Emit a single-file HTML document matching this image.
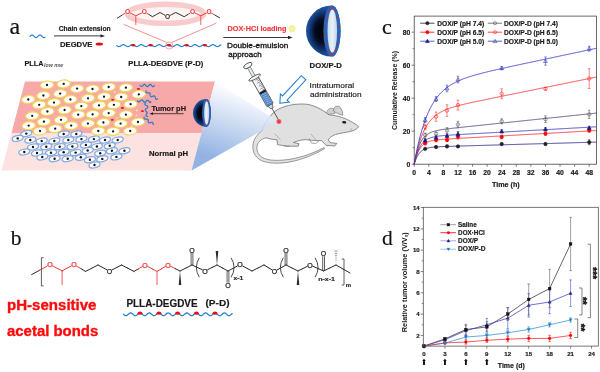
<!DOCTYPE html><html><head><meta charset="utf-8"><title>Figure</title><style>html,body{margin:0;padding:0;background:#fff;}svg{display:block;}</style></head><body>
<svg width="600" height="372" viewBox="0 0 600 372">
<defs>
<radialGradient id="hg1" cx="0.5" cy="0.52" r="0.6" fx="0.46" fy="0.5"><stop offset="0" stop-color="#000"/><stop offset="0.38" stop-color="#040c24"/><stop offset="0.72" stop-color="#184a94"/><stop offset="1" stop-color="#2462b2"/></radialGradient>
<radialGradient id="hg2" cx="0.5" cy="0.52" r="0.6" fx="0.46" fy="0.5"><stop offset="0" stop-color="#000"/><stop offset="0.38" stop-color="#040c24"/><stop offset="0.72" stop-color="#184a94"/><stop offset="1" stop-color="#2462b2"/></radialGradient>
<linearGradient id="faceg" x1="0" y1="0" x2="1" y2="0"><stop offset="0" stop-color="#c8dcf2"/><stop offset="0.5" stop-color="#e8f1fb"/><stop offset="1" stop-color="#bcd3ee"/></linearGradient>
<linearGradient id="coneg" gradientUnits="userSpaceOnUse" x1="236" y1="93" x2="214" y2="158"><stop offset="0" stop-color="#f7f9fd"/><stop offset="0.45" stop-color="#c4d5ef"/><stop offset="1" stop-color="#84a8df"/></linearGradient>
<filter id="blur1" x="-20%" y="-40%" width="140%" height="180%"><feGaussianBlur stdDeviation="0.55"/></filter>
</defs>
<rect width="600" height="372" fill="#fff"/>
<polygon points="25.0,81.5 215.0,81.5 201.4,133.2 11.4,133.2" fill="#f7a9a9"/>
<polygon points="11.4,133.2 201.4,133.2 191.6,170.4 1.6,170.4" fill="#fde2e2"/>
<ellipse cx="47" cy="85" rx="6.7" ry="3.95" fill="#fff" stroke="#f2d458" stroke-width="1.15" transform="rotate(-5 47 85)"/>
<circle cx="47" cy="85" r="1.15" fill="#111"/>
<ellipse cx="63.7" cy="83.9" rx="6.7" ry="3.95" fill="#fff" stroke="#f2d458" stroke-width="1.15" transform="rotate(-5 63.7 83.9)"/>
<circle cx="63.7" cy="83.9" r="1.15" fill="#111"/>
<ellipse cx="77.1" cy="88.6" rx="6.7" ry="3.95" fill="#fff" stroke="#f2d458" stroke-width="1.15" transform="rotate(-5 77.1 88.6)"/>
<circle cx="77.1" cy="88.6" r="1.15" fill="#111"/>
<ellipse cx="92.5" cy="89" rx="6.7" ry="3.95" fill="#fff" stroke="#f2d458" stroke-width="1.15" transform="rotate(-5 92.5 89)"/>
<circle cx="92.5" cy="89" r="1.15" fill="#111"/>
<ellipse cx="43.4" cy="95.5" rx="6.7" ry="3.95" fill="#fff" stroke="#f2d458" stroke-width="1.15" transform="rotate(-5 43.4 95.5)"/>
<circle cx="43.4" cy="95.5" r="1.15" fill="#111"/>
<ellipse cx="60.2" cy="93.6" rx="6.7" ry="3.95" fill="#fff" stroke="#f2d458" stroke-width="1.15" transform="rotate(-5 60.2 93.6)"/>
<circle cx="60.2" cy="93.6" r="1.15" fill="#111"/>
<ellipse cx="28.3" cy="99.5" rx="6.7" ry="3.95" fill="#fff" stroke="#f2d458" stroke-width="1.15" transform="rotate(-5 28.3 99.5)"/>
<circle cx="28.3" cy="99.5" r="1.15" fill="#111"/>
<ellipse cx="70.4" cy="99.5" rx="6.7" ry="3.95" fill="#fff" stroke="#f2d458" stroke-width="1.15" transform="rotate(-5 70.4 99.5)"/>
<circle cx="70.4" cy="99.5" r="1.15" fill="#111"/>
<ellipse cx="88" cy="98.3" rx="6.7" ry="3.95" fill="#fff" stroke="#f2d458" stroke-width="1.15" transform="rotate(-5 88 98.3)"/>
<circle cx="88" cy="98.3" r="1.15" fill="#111"/>
<ellipse cx="39.2" cy="104.8" rx="6.7" ry="3.95" fill="#fff" stroke="#f2d458" stroke-width="1.15" transform="rotate(-5 39.2 104.8)"/>
<circle cx="39.2" cy="104.8" r="1.15" fill="#111"/>
<ellipse cx="54" cy="102.6" rx="6.7" ry="3.95" fill="#fff" stroke="#f2d458" stroke-width="1.15" transform="rotate(-5 54 102.6)"/>
<circle cx="54" cy="102.6" r="1.15" fill="#111"/>
<ellipse cx="81.3" cy="106.1" rx="6.7" ry="3.95" fill="#fff" stroke="#f2d458" stroke-width="1.15" transform="rotate(-5 81.3 106.1)"/>
<circle cx="81.3" cy="106.1" r="1.15" fill="#111"/>
<ellipse cx="47.4" cy="111.5" rx="6.7" ry="3.95" fill="#fff" stroke="#f2d458" stroke-width="1.15" transform="rotate(-5 47.4 111.5)"/>
<circle cx="47.4" cy="111.5" r="1.15" fill="#111"/>
<ellipse cx="64.6" cy="110" rx="6.7" ry="3.95" fill="#fff" stroke="#f2d458" stroke-width="1.15" transform="rotate(-5 64.6 110)"/>
<circle cx="64.6" cy="110" r="1.15" fill="#111"/>
<ellipse cx="32.2" cy="115.8" rx="6.7" ry="3.95" fill="#fff" stroke="#f2d458" stroke-width="1.15" transform="rotate(-5 32.2 115.8)"/>
<circle cx="32.2" cy="115.8" r="1.15" fill="#111"/>
<ellipse cx="78.2" cy="114.7" rx="6.7" ry="3.95" fill="#fff" stroke="#f2d458" stroke-width="1.15" transform="rotate(-5 78.2 114.7)"/>
<circle cx="78.2" cy="114.7" r="1.15" fill="#111"/>
<ellipse cx="92.6" cy="114.4" rx="6.7" ry="3.95" fill="#fff" stroke="#f2d458" stroke-width="1.15" transform="rotate(-5 92.6 114.4)"/>
<circle cx="92.6" cy="114.4" r="1.15" fill="#111"/>
<ellipse cx="43.9" cy="121.7" rx="6.7" ry="3.95" fill="#fff" stroke="#f2d458" stroke-width="1.15" transform="rotate(-5 43.9 121.7)"/>
<circle cx="43.9" cy="121.7" r="1.15" fill="#111"/>
<ellipse cx="61" cy="119.8" rx="6.7" ry="3.95" fill="#fff" stroke="#f2d458" stroke-width="1.15" transform="rotate(-5 61 119.8)"/>
<circle cx="61" cy="119.8" r="1.15" fill="#111"/>
<ellipse cx="87.9" cy="123.6" rx="6.7" ry="3.95" fill="#fff" stroke="#f2d458" stroke-width="1.15" transform="rotate(-5 87.9 123.6)"/>
<circle cx="87.9" cy="123.6" r="1.15" fill="#111"/>
<ellipse cx="28.7" cy="125.6" rx="6.7" ry="3.95" fill="#fff" stroke="#f2d458" stroke-width="1.15" transform="rotate(-5 28.7 125.6)"/>
<circle cx="28.7" cy="125.6" r="1.15" fill="#111"/>
<ellipse cx="71.2" cy="125.6" rx="6.7" ry="3.95" fill="#fff" stroke="#f2d458" stroke-width="1.15" transform="rotate(-5 71.2 125.6)"/>
<circle cx="71.2" cy="125.6" r="1.15" fill="#111"/>
<ellipse cx="40" cy="131" rx="6.7" ry="3.95" fill="#fff" stroke="#f2d458" stroke-width="1.15" transform="rotate(-5 40 131)"/>
<circle cx="40" cy="131" r="1.15" fill="#111"/>
<ellipse cx="55.2" cy="128.7" rx="6.7" ry="3.95" fill="#fff" stroke="#f2d458" stroke-width="1.15" transform="rotate(-5 55.2 128.7)"/>
<circle cx="55.2" cy="128.7" r="1.15" fill="#111"/>
<ellipse cx="108.7" cy="87" rx="6.7" ry="3.95" fill="#fff" stroke="#f2d458" stroke-width="1.15" transform="rotate(-5 108.7 87)"/>
<circle cx="108.7" cy="87" r="1.15" fill="#111"/>
<ellipse cx="125.9" cy="87.7" rx="6.7" ry="3.95" fill="#fff" stroke="#f2d458" stroke-width="1.15" transform="rotate(-5 125.9 87.7)"/>
<circle cx="125.9" cy="87.7" r="1.15" fill="#111"/>
<ellipse cx="104" cy="96.7" rx="6.7" ry="3.95" fill="#fff" stroke="#f2d458" stroke-width="1.15" transform="rotate(-5 104 96.7)"/>
<circle cx="104" cy="96.7" r="1.15" fill="#111"/>
<ellipse cx="121.2" cy="97" rx="6.7" ry="3.95" fill="#fff" stroke="#f2d458" stroke-width="1.15" transform="rotate(-5 121.2 97)"/>
<circle cx="121.2" cy="97" r="1.15" fill="#111"/>
<ellipse cx="138.8" cy="94.4" rx="6.7" ry="3.95" fill="#fff" stroke="#f2d458" stroke-width="1.15" transform="rotate(-5 138.8 94.4)"/>
<circle cx="138.8" cy="94.4" r="1.15" fill="#111"/>
<ellipse cx="99" cy="105.3" rx="6.7" ry="3.95" fill="#fff" stroke="#f2d458" stroke-width="1.15" transform="rotate(-5 99 105.3)"/>
<circle cx="99" cy="105.3" r="1.15" fill="#111"/>
<ellipse cx="113.9" cy="104.8" rx="6.7" ry="3.95" fill="#fff" stroke="#f2d458" stroke-width="1.15" transform="rotate(-5 113.9 104.8)"/>
<circle cx="113.9" cy="104.8" r="1.15" fill="#111"/>
<ellipse cx="130.6" cy="104.2" rx="6.7" ry="3.95" fill="#fff" stroke="#f2d458" stroke-width="1.15" transform="rotate(-5 130.6 104.2)"/>
<circle cx="130.6" cy="104.2" r="1.15" fill="#111"/>
<ellipse cx="108.7" cy="113.1" rx="6.7" ry="3.95" fill="#fff" stroke="#f2d458" stroke-width="1.15" transform="rotate(-5 108.7 113.1)"/>
<circle cx="108.7" cy="113.1" r="1.15" fill="#111"/>
<ellipse cx="125.9" cy="114.7" rx="6.7" ry="3.95" fill="#fff" stroke="#f2d458" stroke-width="1.15" transform="rotate(-5 125.9 114.7)"/>
<circle cx="125.9" cy="114.7" r="1.15" fill="#111"/>
<ellipse cx="103.4" cy="122.5" rx="6.7" ry="3.95" fill="#fff" stroke="#f2d458" stroke-width="1.15" transform="rotate(-5 103.4 122.5)"/>
<circle cx="103.4" cy="122.5" r="1.15" fill="#111"/>
<ellipse cx="120.6" cy="123.6" rx="6.7" ry="3.95" fill="#fff" stroke="#f2d458" stroke-width="1.15" transform="rotate(-5 120.6 123.6)"/>
<circle cx="120.6" cy="123.6" r="1.15" fill="#111"/>
<ellipse cx="138" cy="122" rx="6.7" ry="3.95" fill="#fff" stroke="#f2d458" stroke-width="1.15" transform="rotate(-5 138 122)"/>
<circle cx="138" cy="122" r="1.15" fill="#111"/>
<ellipse cx="98.3" cy="131" rx="6.7" ry="3.95" fill="#fff" stroke="#f2d458" stroke-width="1.15" transform="rotate(-5 98.3 131)"/>
<circle cx="98.3" cy="131" r="1.15" fill="#111"/>
<ellipse cx="113.1" cy="131.4" rx="6.7" ry="3.95" fill="#fff" stroke="#f2d458" stroke-width="1.15" transform="rotate(-5 113.1 131.4)"/>
<circle cx="113.1" cy="131.4" r="1.15" fill="#111"/>
<ellipse cx="130.2" cy="131" rx="6.7" ry="3.95" fill="#fff" stroke="#f2d458" stroke-width="1.15" transform="rotate(-5 130.2 131)"/>
<circle cx="130.2" cy="131" r="1.15" fill="#111"/>
<ellipse cx="138.4" cy="88.9" rx="1.6" ry="0.9" fill="#e8101a"/>
<ellipse cx="112.8" cy="99.8" rx="1.6" ry="0.9" fill="#e8101a"/>
<ellipse cx="122.4" cy="108" rx="1.6" ry="0.9" fill="#e8101a"/>
<ellipse cx="142.4" cy="111.1" rx="1.6" ry="0.9" fill="#e8101a"/>
<ellipse cx="112.3" cy="119.8" rx="1.6" ry="0.9" fill="#e8101a"/>
<circle cx="114.6" cy="92" r="0.9" fill="#f6f08a"/>
<circle cx="136.8" cy="110.4" r="0.9" fill="#f6f08a"/>
<circle cx="136.5" cy="115.4" r="0.9" fill="#f6f08a"/>
<circle cx="117" cy="117.8" r="0.9" fill="#f6f08a"/>
<circle cx="131.8" cy="126.4" r="0.9" fill="#f6f08a"/>
<circle cx="128" cy="116" r="0.9" fill="#f6f08a"/>
<ellipse cx="26.3" cy="133.6" rx="5.6" ry="2.8" fill="#fff" stroke="#80aae0" stroke-width="1.2" transform="rotate(-12 26.3 133.6)"/>
<circle cx="26.3" cy="133.6" r="1.2" fill="#111"/>
<ellipse cx="17.7" cy="138.4" rx="5.6" ry="2.8" fill="#fff" stroke="#80aae0" stroke-width="1.2" transform="rotate(-12 17.7 138.4)"/>
<circle cx="17.7" cy="138.4" r="1.2" fill="#111"/>
<ellipse cx="30.3" cy="140" rx="5.6" ry="2.8" fill="#fff" stroke="#80aae0" stroke-width="1.2" transform="rotate(-12 30.3 140)"/>
<circle cx="30.3" cy="140" r="1.2" fill="#111"/>
<ellipse cx="41.7" cy="141" rx="5.6" ry="2.8" fill="#fff" stroke="#80aae0" stroke-width="1.2" transform="rotate(-12 41.7 141)"/>
<circle cx="41.7" cy="141" r="1.2" fill="#111"/>
<ellipse cx="54.3" cy="141" rx="5.6" ry="2.8" fill="#fff" stroke="#80aae0" stroke-width="1.2" transform="rotate(-12 54.3 141)"/>
<circle cx="54.3" cy="141" r="1.2" fill="#111"/>
<ellipse cx="63.7" cy="134" rx="5.6" ry="2.8" fill="#fff" stroke="#80aae0" stroke-width="1.2" transform="rotate(-12 63.7 134)"/>
<circle cx="63.7" cy="134" r="1.2" fill="#111"/>
<ellipse cx="76.3" cy="134" rx="5.6" ry="2.8" fill="#fff" stroke="#80aae0" stroke-width="1.2" transform="rotate(-12 76.3 134)"/>
<circle cx="76.3" cy="134" r="1.2" fill="#111"/>
<ellipse cx="68.3" cy="140" rx="5.6" ry="2.8" fill="#fff" stroke="#80aae0" stroke-width="1.2" transform="rotate(-12 68.3 140)"/>
<circle cx="68.3" cy="140" r="1.2" fill="#111"/>
<ellipse cx="81.4" cy="139.1" rx="5.6" ry="2.8" fill="#fff" stroke="#80aae0" stroke-width="1.2" transform="rotate(-12 81.4 139.1)"/>
<circle cx="81.4" cy="139.1" r="1.2" fill="#111"/>
<ellipse cx="33" cy="147" rx="5.6" ry="2.8" fill="#fff" stroke="#80aae0" stroke-width="1.2" transform="rotate(-12 33 147)"/>
<circle cx="33" cy="147" r="1.2" fill="#111"/>
<ellipse cx="46.3" cy="146.7" rx="5.6" ry="2.8" fill="#fff" stroke="#80aae0" stroke-width="1.2" transform="rotate(-12 46.3 146.7)"/>
<circle cx="46.3" cy="146.7" r="1.2" fill="#111"/>
<ellipse cx="59.7" cy="146.7" rx="5.6" ry="2.8" fill="#fff" stroke="#80aae0" stroke-width="1.2" transform="rotate(-12 59.7 146.7)"/>
<circle cx="59.7" cy="146.7" r="1.2" fill="#111"/>
<ellipse cx="72.4" cy="146.5" rx="5.6" ry="2.8" fill="#fff" stroke="#80aae0" stroke-width="1.2" transform="rotate(-12 72.4 146.5)"/>
<circle cx="72.4" cy="146.5" r="1.2" fill="#111"/>
<ellipse cx="24.3" cy="152" rx="5.6" ry="2.8" fill="#fff" stroke="#80aae0" stroke-width="1.2" transform="rotate(-12 24.3 152)"/>
<circle cx="24.3" cy="152" r="1.2" fill="#111"/>
<ellipse cx="37" cy="153" rx="5.6" ry="2.8" fill="#fff" stroke="#80aae0" stroke-width="1.2" transform="rotate(-12 37 153)"/>
<circle cx="37" cy="153" r="1.2" fill="#111"/>
<ellipse cx="51" cy="152.7" rx="5.6" ry="2.8" fill="#fff" stroke="#80aae0" stroke-width="1.2" transform="rotate(-12 51 152.7)"/>
<circle cx="51" cy="152.7" r="1.2" fill="#111"/>
<ellipse cx="63.7" cy="152.3" rx="5.6" ry="2.8" fill="#fff" stroke="#80aae0" stroke-width="1.2" transform="rotate(-12 63.7 152.3)"/>
<circle cx="63.7" cy="152.3" r="1.2" fill="#111"/>
<ellipse cx="75.6" cy="152.6" rx="5.6" ry="2.8" fill="#fff" stroke="#80aae0" stroke-width="1.2" transform="rotate(-12 75.6 152.6)"/>
<circle cx="75.6" cy="152.6" r="1.2" fill="#111"/>
<ellipse cx="42.3" cy="157" rx="5.6" ry="2.8" fill="#fff" stroke="#80aae0" stroke-width="1.2" transform="rotate(-12 42.3 157)"/>
<circle cx="42.3" cy="157" r="1.2" fill="#111"/>
<ellipse cx="54.6" cy="158.7" rx="5.6" ry="2.8" fill="#fff" stroke="#80aae0" stroke-width="1.2" transform="rotate(-12 54.6 158.7)"/>
<circle cx="54.6" cy="158.7" r="1.2" fill="#111"/>
<ellipse cx="67.7" cy="158.7" rx="5.6" ry="2.8" fill="#fff" stroke="#80aae0" stroke-width="1.2" transform="rotate(-12 67.7 158.7)"/>
<circle cx="67.7" cy="158.7" r="1.2" fill="#111"/>
<ellipse cx="80.8" cy="157.3" rx="5.6" ry="2.8" fill="#fff" stroke="#80aae0" stroke-width="1.2" transform="rotate(-12 80.8 157.3)"/>
<circle cx="80.8" cy="157.3" r="1.2" fill="#111"/>
<ellipse cx="93.9" cy="139.1" rx="5.6" ry="2.8" fill="#fff" stroke="#80aae0" stroke-width="1.2" transform="rotate(-12 93.9 139.1)"/>
<circle cx="93.9" cy="139.1" r="1.2" fill="#111"/>
<ellipse cx="105" cy="140" rx="5.6" ry="2.8" fill="#fff" stroke="#80aae0" stroke-width="1.2" transform="rotate(-12 105 140)"/>
<circle cx="105" cy="140" r="1.2" fill="#111"/>
<ellipse cx="117.7" cy="140" rx="5.6" ry="2.8" fill="#fff" stroke="#80aae0" stroke-width="1.2" transform="rotate(-12 117.7 140)"/>
<circle cx="117.7" cy="140" r="1.2" fill="#111"/>
<ellipse cx="85.9" cy="144.9" rx="5.6" ry="2.8" fill="#fff" stroke="#80aae0" stroke-width="1.2" transform="rotate(-12 85.9 144.9)"/>
<circle cx="85.9" cy="144.9" r="1.2" fill="#111"/>
<ellipse cx="96.9" cy="146.5" rx="5.6" ry="2.8" fill="#fff" stroke="#80aae0" stroke-width="1.2" transform="rotate(-12 96.9 146.5)"/>
<circle cx="96.9" cy="146.5" r="1.2" fill="#111"/>
<ellipse cx="109.7" cy="145.8" rx="5.6" ry="2.8" fill="#fff" stroke="#80aae0" stroke-width="1.2" transform="rotate(-12 109.7 145.8)"/>
<circle cx="109.7" cy="145.8" r="1.2" fill="#111"/>
<ellipse cx="87.7" cy="150.5" rx="5.6" ry="2.8" fill="#fff" stroke="#80aae0" stroke-width="1.2" transform="rotate(-12 87.7 150.5)"/>
<circle cx="87.7" cy="150.5" r="1.2" fill="#111"/>
<ellipse cx="100.2" cy="153.2" rx="5.6" ry="2.8" fill="#fff" stroke="#80aae0" stroke-width="1.2" transform="rotate(-12 100.2 153.2)"/>
<circle cx="100.2" cy="153.2" r="1.2" fill="#111"/>
<ellipse cx="111.9" cy="150.8" rx="5.6" ry="2.8" fill="#fff" stroke="#80aae0" stroke-width="1.2" transform="rotate(-12 111.9 150.8)"/>
<circle cx="111.9" cy="150.8" r="1.2" fill="#111"/>
<ellipse cx="124.4" cy="150.8" rx="5.6" ry="2.8" fill="#fff" stroke="#80aae0" stroke-width="1.2" transform="rotate(-12 124.4 150.8)"/>
<circle cx="124.4" cy="150.8" r="1.2" fill="#111"/>
<ellipse cx="89.9" cy="159.7" rx="5.6" ry="2.8" fill="#fff" stroke="#80aae0" stroke-width="1.2" transform="rotate(-12 89.9 159.7)"/>
<circle cx="89.9" cy="159.7" r="1.2" fill="#111"/>
<ellipse cx="102.3" cy="158.9" rx="5.6" ry="2.8" fill="#fff" stroke="#80aae0" stroke-width="1.2" transform="rotate(-12 102.3 158.9)"/>
<circle cx="102.3" cy="158.9" r="1.2" fill="#111"/>
<ellipse cx="116.4" cy="156.9" rx="5.6" ry="2.8" fill="#fff" stroke="#80aae0" stroke-width="1.2" transform="rotate(-12 116.4 156.9)"/>
<circle cx="116.4" cy="156.9" r="1.2" fill="#111"/>
<ellipse cx="94.5" cy="165" rx="5.6" ry="2.8" fill="#fff" stroke="#80aae0" stroke-width="1.2" transform="rotate(-12 94.5 165)"/>
<circle cx="94.5" cy="165" r="1.2" fill="#111"/>
<polyline points="140.10,85.40 140.43,85.80 140.76,86.14 141.09,86.39 141.43,86.51 141.76,86.49 142.10,86.33 142.44,86.05 142.78,85.69 143.12,85.30 143.46,84.92 143.80,84.62 144.14,84.42 144.48,84.36 144.81,84.45 145.15,84.66 145.48,84.98 145.81,85.37 146.14,85.77 146.47,86.14 146.80,86.42 147.13,86.57 147.47,86.59 147.81,86.47 148.15,86.22 148.49,85.88 148.83,85.49 149.17,85.10 149.51,84.78 149.85,84.55 150.19,84.45 150.52,84.49 150.86,84.67 151.19,84.97 151.52,85.34 151.85,85.75 152.18,86.13 152.51,86.43 152.84,86.63 153.18,86.68 153.51,86.60 153.85,86.38 154.20,85.60" fill="none" stroke="#2b78c8" stroke-width="1.2" stroke-linejoin="round" stroke-linecap="round"/>
<polyline points="146.10,90.80 146.04,91.31 146.02,91.79 146.07,92.21 146.22,92.53 146.47,92.76 146.82,92.89 147.26,92.94 147.76,92.94 148.28,92.92 148.79,92.90 149.24,92.94 149.62,93.06 149.89,93.26 150.05,93.57 150.12,93.97 150.11,94.43 150.04,94.93 150.16,95.44 150.31,95.91 150.49,96.30 150.73,96.58 151.04,96.73 151.41,96.74 151.83,96.65 152.30,96.48 152.78,96.27 153.26,96.08 153.71,95.94 154.11,95.91 154.44,95.99 154.71,96.21 154.92,96.55 155.09,96.99 155.22,97.49 155.34,98.00 155.48,98.47 155.66,98.87 155.90,99.16 156.20,99.31 156.57,99.34 156.99,99.25 157.60,98.80" fill="none" stroke="#2b78c8" stroke-width="1.2" stroke-linejoin="round" stroke-linecap="round"/>
<polyline points="137.40,100.80 137.71,101.21 138.03,101.56 138.35,101.83 138.68,101.96 139.02,101.95 139.36,101.81 139.71,101.54 140.07,101.20 140.42,100.82 140.78,100.46 141.13,100.16 141.47,99.98 141.81,99.93 142.14,100.02 142.47,100.25 142.79,100.58 143.10,100.98 143.42,101.40 143.73,101.77 144.05,102.07 144.38,102.24 144.71,102.27 145.05,102.16 145.40,101.93 145.76,101.60 146.11,101.23 146.47,100.86 146.82,100.54 147.17,100.32 147.51,100.23 147.84,100.28 148.17,100.47 148.49,100.78 148.80,101.17 149.12,101.58 149.43,101.97 149.75,102.29 150.08,102.50 150.41,102.58 150.80,101.50" fill="none" stroke="#2b78c8" stroke-width="1.2" stroke-linejoin="round" stroke-linecap="round"/>
<polyline points="145.50,102.80 145.21,103.27 144.98,103.72 144.86,104.13 144.88,104.50 145.06,104.82 145.39,105.09 145.83,105.33 146.33,105.55 146.84,105.76 147.29,105.99 147.64,106.26 147.88,107.08 147.77,107.41 147.53,107.71 147.16,108.00 146.73,108.28 146.27,108.55 145.85,108.82 145.51,109.11 145.29,109.42 145.22,109.76 145.29,110.12 145.49,110.50 145.79,110.89 146.13,111.30 146.46,111.70 146.73,112.09 146.84,111.92 147.05,112.22 147.12,112.59 147.04,113.00 146.85,113.47 146.60,113.95 146.34,114.44 146.14,114.91 146.04,115.34 146.08,115.71 146.27,116.02 146.61,116.27 147.50,116.30" fill="none" stroke="#2b78c8" stroke-width="1.2" stroke-linejoin="round" stroke-linecap="round"/>
<polyline points="144.10,117.00 144.05,117.53 144.05,118.03 144.12,118.45 144.29,118.77 144.57,118.98 144.96,119.09 145.43,119.11 145.96,119.09 146.50,119.05 147.01,119.04 147.45,119.10 147.80,119.24 148.04,119.50 148.17,119.86 148.21,120.31 148.13,120.79 148.21,121.31 148.30,121.81 148.42,122.25 148.61,122.60 148.87,122.83 149.21,122.93 149.61,122.92 150.08,122.82 150.57,122.66 151.07,122.50 151.55,122.38 151.98,122.34 152.33,122.40 152.62,122.59 152.82,122.90 152.97,123.32 153.06,123.81 153.14,124.33 153.50,124.40" fill="none" stroke="#2b78c8" stroke-width="1.2" stroke-linejoin="round" stroke-linecap="round"/>
<text x="151.50" y="110.50" font-size="8.0" font-weight="bold" fill="#1a1a1a" text-anchor="start" stroke="#1a1a1a" stroke-width="0.18" textLength="34.5" lengthAdjust="spacingAndGlyphs" font-family='"Liberation Sans", Arial, sans-serif' >Tumor pH</text>
<line x1="152" y1="113.7" x2="183.7" y2="113.7" stroke="#222" stroke-width="0.8"/>
<polygon points="149.5,113.7 153,112.3 153,115.1" fill="#222"/>
<text x="149.00" y="156.00" font-size="7.5" font-weight="bold" fill="#1a1a1a" text-anchor="start" stroke="#1a1a1a" stroke-width="0.18" textLength="39" lengthAdjust="spacingAndGlyphs" font-family='"Liberation Sans", Arial, sans-serif' >Normal pH</text>
<g transform="translate(332,31) scale(1.0,1.0)">
<path d="M 0,-25.6 A 26,25.6 0 0 0 0,25.6 A 8.5,25.6 0 0 0 0,-25.6 Z" fill="url(#hg1)"/>
<ellipse cx="0" cy="0" rx="8.6" ry="25.6" fill="#2467b8"/>
<ellipse cx="0.3" cy="0" rx="4.8" ry="21.5" fill="url(#faceg)"/>
<circle cx="6.57" cy="4.65" r="0.95" fill="#e02030"/>
<circle cx="5.56" cy="13.07" r="0.95" fill="#e02030"/>
<circle cx="3.70" cy="19.50" r="0.95" fill="#e02030"/>
<circle cx="1.28" cy="22.97" r="0.95" fill="#e02030"/>
<circle cx="-1.33" cy="22.93" r="0.95" fill="#e02030"/>
<circle cx="-3.74" cy="19.41" r="0.95" fill="#e02030"/>
<circle cx="-5.58" cy="12.93" r="0.95" fill="#e02030"/>
<circle cx="-6.58" cy="4.48" r="0.95" fill="#e02030"/>
<circle cx="-6.57" cy="-4.65" r="0.95" fill="#e02030"/>
<circle cx="-5.56" cy="-13.07" r="0.95" fill="#e02030"/>
<circle cx="-3.70" cy="-19.50" r="0.95" fill="#e02030"/>
<circle cx="-1.28" cy="-22.97" r="0.95" fill="#e02030"/>
<circle cx="1.33" cy="-22.93" r="0.95" fill="#e02030"/>
<circle cx="3.74" cy="-19.41" r="0.95" fill="#e02030"/>
<circle cx="5.58" cy="-12.93" r="0.95" fill="#e02030"/>
<circle cx="6.58" cy="-4.48" r="0.95" fill="#e02030"/>
<circle cx="-0.5" cy="-11" r="0.9" fill="#f4f4b0"/>
<circle cx="0.5" cy="-2.5" r="0.9" fill="#f4f4b0"/>
<circle cx="0.5" cy="4" r="0.9" fill="#f4f4b0"/>
<circle cx="-1" cy="12" r="0.9" fill="#f4f4b0"/>
</g>
<path d="M267,133 L261.6,131 C257,134.5 253.2,139.5 252.9,146 C252.6,152 255,156.5 259.5,159.5 C265,162.9 273,163.6 283,162.9 C296,161.7 311,156.6 324.7,148.5 L324.1,147.5 C311,154.6 296,159.1 283,160.1 C273.5,160.8 266,160 261.8,157.2 C258,154.4 256.4,150.5 257,146.4 C257.6,142.4 260.5,139.3 266,137.8 Z" fill="#e2e2e2" stroke="#707070" stroke-width="0.7" stroke-linejoin="round"/>
<path d="M326.5,114.5 C326.5,109.5 329.5,107.6 332,108.3 C334.2,109 335.2,111 335,113.5 Z" fill="#cfcfcf" stroke="#777" stroke-width="0.6"/>
<path d="M265.8,137.7 L262.6,134.6 L261.6,131 C263.6,124 268,117 276,110.6 C283,106 293,103.8 304,104 C313,104.4 321,108.8 329,114.8 C338,115.5 346,118.5 351,121.5 C354.5,123.5 357,125 358.6,126.7 C357.5,129 354,130.5 350.5,131.5 C344,132.5 339,133.5 335.5,134.5 C332,135.8 329.5,137.5 328.3,139.8 L330,142.6 L336.8,143.4 L334.8,146 L326,145.3 L321.5,140.6 C316,140.8 310.5,140.2 305,139.6 C300.5,140 297,141 293.5,142.5 L299,143.7 L298.2,146.2 L287,146.2 L277.5,144.6 L277,139.8 C273,139.5 269,138.8 265.8,137.7 Z" fill="#e0e0e0"/>
<path d="M261.6,131 C263.6,124 268,117 276,110.6 C283,106 293,103.8 304,104 C313,104.4 321,108.8 329,114.8 C338,115.5 346,118.5 351,121.5 C354.5,123.5 357,125 358.6,126.7 C357.5,129 354,130.5 350.5,131.5 C344,132.5 339,133.5 335.5,134.5 C332,135.8 329.5,137.5 328.3,139.8 L330,142.6 L336.8,143.4 L334.8,146 L326,145.3 L321.5,140.6 C316,140.8 310.5,140.2 305,139.6 C300.5,140 297,141 293.5,142.5 L299,143.7 L298.2,146.2 L287,146.2 L277.5,144.6 L277,139.8 C273,139.5 269,138.8 265.8,137.7" fill="none" stroke="#6a6a6a" stroke-width="0.75" stroke-linejoin="round"/>
<path d="M333.5,111 C333.3,107.5 336,105.5 338.5,106.3 C341.2,107.3 342.6,111 342.8,115.2 C339.5,114.5 336,113 333.5,111 Z" fill="#d6d6d6" stroke="#6a6a6a" stroke-width="0.65"/>
<path d="M335,109.5 C335.5,108 337.5,107.6 338.6,108.6" fill="none" stroke="#aaa" stroke-width="0.5"/>
<ellipse cx="344.2" cy="122.3" rx="2.1" ry="1.25" fill="#1a1a1a" transform="rotate(10 344.2 122.3)"/>
<path d="M274.5,133.5 C276.5,135.5 278.5,137.5 280.5,140" fill="none" stroke="#8a8a8a" stroke-width="0.55"/>
<path d="M311,134 C313,136.5 314.5,138.5 316,140" fill="none" stroke="#8a8a8a" stroke-width="0.55"/>
<path d="M284,146 L289.5,146.2 M319,141 L315.5,143.5 L311.5,143 L309,138.5" fill="none" stroke="#6a6a6a" stroke-width="0.6"/>
<path d="M351.5,131.2 C350.5,130 350.5,129 351.5,128.3" fill="none" stroke="#777" stroke-width="0.5"/>
<polygon points="215.0,81.5 278.5,121.3 191.6,170.4" fill="url(#coneg)" opacity="0.88"/>
<g transform="translate(206.5,113.0) scale(0.52,0.545)">
<path d="M 0,-25.6 A 26,25.6 0 0 0 0,25.6 A 8.5,25.6 0 0 0 0,-25.6 Z" fill="url(#hg2)"/>
<ellipse cx="0" cy="0" rx="8.6" ry="25.6" fill="#2467b8"/>
<ellipse cx="0.3" cy="0" rx="4.8" ry="21.5" fill="url(#faceg)"/>
<circle cx="6.57" cy="4.65" r="0.95" fill="#e02030"/>
<circle cx="5.56" cy="13.07" r="0.95" fill="#e02030"/>
<circle cx="3.70" cy="19.50" r="0.95" fill="#e02030"/>
<circle cx="1.28" cy="22.97" r="0.95" fill="#e02030"/>
<circle cx="-1.33" cy="22.93" r="0.95" fill="#e02030"/>
<circle cx="-3.74" cy="19.41" r="0.95" fill="#e02030"/>
<circle cx="-5.58" cy="12.93" r="0.95" fill="#e02030"/>
<circle cx="-6.58" cy="4.48" r="0.95" fill="#e02030"/>
<circle cx="-6.57" cy="-4.65" r="0.95" fill="#e02030"/>
<circle cx="-5.56" cy="-13.07" r="0.95" fill="#e02030"/>
<circle cx="-3.70" cy="-19.50" r="0.95" fill="#e02030"/>
<circle cx="-1.28" cy="-22.97" r="0.95" fill="#e02030"/>
<circle cx="1.33" cy="-22.93" r="0.95" fill="#e02030"/>
<circle cx="3.74" cy="-19.41" r="0.95" fill="#e02030"/>
<circle cx="5.58" cy="-12.93" r="0.95" fill="#e02030"/>
<circle cx="6.58" cy="-4.48" r="0.95" fill="#e02030"/>
<circle cx="-0.5" cy="-11" r="0.9" fill="#f4f4b0"/>
<circle cx="0.5" cy="-2.5" r="0.9" fill="#f4f4b0"/>
<circle cx="0.5" cy="4" r="0.9" fill="#f4f4b0"/>
<circle cx="-1" cy="12" r="0.9" fill="#f4f4b0"/>
</g>
<g transform="translate(279.9,103.3) rotate(132.8)">
<polygon points="0,0 -7.2,-6 -7.2,-3.1 -34.8,-3.1 -34.8,3.1 -7.2,3.1 -7.2,6" fill="#fff" stroke="#2c7ccc" stroke-width="1.1" stroke-linejoin="miter"/>
</g>
<g transform="translate(248.1,66.1) rotate(60.5)">
<line x1="47" y1="0" x2="62.5" y2="0" stroke="#333" stroke-width="0.7"/>
<path d="M44.5,-2.6 L48.5,-1.2 L48.5,1.2 L44.5,2.6 Z" fill="#cfd8e4" stroke="#333" stroke-width="0.6"/>
<rect x="1.2" y="-1.5" width="12" height="3" fill="#e8ecf2" stroke="#444" stroke-width="0.55"/>
<ellipse cx="-0.6" cy="0" rx="2.2" ry="4.6" fill="#f4f6fa" stroke="#333" stroke-width="0.75"/>
<rect x="13.5" y="-3.6" width="31" height="7.2" fill="#f2f4f8" stroke="#333" stroke-width="0.7"/>
<ellipse cx="13.2" cy="0" rx="1.6" ry="6.6" fill="#f4f6fa" stroke="#333" stroke-width="0.7"/>
<line x1="16.0" y1="-3.4" x2="16.0" y2="0.5" stroke="#333" stroke-width="0.45"/>
<line x1="17.7" y1="-3.4" x2="17.7" y2="-0.8" stroke="#333" stroke-width="0.45"/>
<line x1="19.4" y1="-3.4" x2="19.4" y2="0.5" stroke="#333" stroke-width="0.45"/>
<line x1="21.1" y1="-3.4" x2="21.1" y2="-0.8" stroke="#333" stroke-width="0.45"/>
<line x1="22.8" y1="-3.4" x2="22.8" y2="0.5" stroke="#333" stroke-width="0.45"/>
<line x1="24.5" y1="-3.4" x2="24.5" y2="-0.8" stroke="#333" stroke-width="0.45"/>
<line x1="26.2" y1="-3.4" x2="26.2" y2="0.5" stroke="#333" stroke-width="0.45"/>
<line x1="27.9" y1="-3.4" x2="27.9" y2="-0.8" stroke="#333" stroke-width="0.45"/>
<rect x="28.6" y="-3.4" width="2.4" height="6.8" fill="#1a1a2a"/>
<rect x="31" y="-3.4" width="13.3" height="6.8" fill="#4d7fc4"/>
<path d="M32.3,-3 q1,1.5 0,3 t0,3" fill="none" stroke="#c8daf2" stroke-width="0.5"/>
<path d="M34.3,-3 q1,1.5 0,3 t0,3" fill="none" stroke="#c8daf2" stroke-width="0.5"/>
<path d="M36.3,-3 q1,1.5 0,3 t0,3" fill="none" stroke="#c8daf2" stroke-width="0.5"/>
<path d="M38.3,-3 q1,1.5 0,3 t0,3" fill="none" stroke="#c8daf2" stroke-width="0.5"/>
<path d="M40.3,-3 q1,1.5 0,3 t0,3" fill="none" stroke="#c8daf2" stroke-width="0.5"/>
<path d="M42.3,-3 q1,1.5 0,3 t0,3" fill="none" stroke="#c8daf2" stroke-width="0.5"/>
</g>
<circle cx="278.9" cy="121.6" r="2.5" fill="#f06070"/>
<circle cx="278.9" cy="121.6" r="1.3" fill="#e83040"/>
<text x="9.50" y="34.30" font-size="24" font-weight="normal" fill="#111" text-anchor="start" stroke="#111" stroke-width="0.15" font-family='"Liberation Serif", "Times New Roman", serif' >a</text>
<polyline points="30.00,36.30 30.33,35.97 30.65,35.66 30.98,35.40 31.30,35.19 31.63,35.05 31.96,35.00 32.28,35.03 32.61,35.15 32.93,35.33 33.26,35.59 33.59,35.89 33.91,36.21 34.24,36.54 34.57,36.86 34.89,37.14 35.22,37.36 35.54,37.52 35.87,37.59 36.20,37.58 36.52,37.49 36.85,37.32 37.17,37.09 37.50,36.80 37.83,36.48 38.15,36.14 38.48,35.82 38.80,35.53 39.13,35.29 39.46,35.12 39.78,35.02 40.11,35.00 40.43,35.08 40.76,35.23 41.09,35.45 41.41,35.72 41.74,36.04 42.07,36.37 42.39,36.69 42.72,36.99 43.04,37.25 43.37,37.44 43.70,37.56 44.02,37.60 44.35,37.55 44.67,37.42 45.00,37.22" fill="none" stroke="#2b7fd0" stroke-width="1.2" stroke-linecap="round"/>
<text x="58.70" y="30.70" font-size="7.0" font-weight="bold" fill="#222" text-anchor="start" stroke="#222" stroke-width="0.18" textLength="52" lengthAdjust="spacingAndGlyphs" font-family='"Liberation Sans", Arial, sans-serif' >Chain extension</text>
<line x1="54" y1="35.9" x2="102" y2="35.9" stroke="#222" stroke-width="0.9"/>
<polygon points="105,35.9 100.5,34.2 100.5,37.6" fill="#222"/>
<text x="60.00" y="47.00" font-size="7.8" font-weight="bold" fill="#1a1a1a" text-anchor="start" stroke="#1a1a1a" stroke-width="0.18" textLength="32.4" lengthAdjust="spacingAndGlyphs" font-family='"Liberation Sans", Arial, sans-serif' >DEGDVE</text>
<ellipse cx="99.3" cy="44" rx="3.7" ry="1.55" fill="#e0101a"/>
<text x="24.50" y="65.80" font-size="7.7" font-weight="bold" fill="#1a1a1a" text-anchor="start" stroke="#1a1a1a" stroke-width="0.18" textLength="19" lengthAdjust="spacingAndGlyphs" font-family='"Liberation Sans", Arial, sans-serif' >PLLA</text>
<text x="44.00" y="67.20" font-size="4.6" font-weight="bold" fill="#555" text-anchor="start" textLength="19" lengthAdjust="spacingAndGlyphs" font-family='"Liberation Sans", Arial, sans-serif' font-style="italic">low mw</text>
<ellipse cx="165.5" cy="13.8" rx="38.2" ry="9.6" fill="#fef4f4" stroke="#f8cccc" stroke-width="5.4" filter="url(#blur1)"/>
<line x1="123.5" y1="24.3" x2="166.5" y2="42.3" stroke="#f06060" stroke-width="0.7"/>
<line x1="216" y1="23.3" x2="172" y2="42.3" stroke="#f06060" stroke-width="0.7"/>
<line x1="117" y1="18.3" x2="122.25" y2="15.0" stroke="#333" stroke-width="1.0"/>
<line x1="122.25" y1="15.0" x2="127.5" y2="11.7" stroke="#f03a3a" stroke-width="1.0"/>
<line x1="127.5" y1="11.7" x2="131.65" y2="13.75" stroke="#f03a3a" stroke-width="1.0"/>
<line x1="131.65" y1="13.75" x2="135.8" y2="15.8" stroke="#f03a3a" stroke-width="1.0"/>
<line x1="135.8" y1="15.8" x2="140.0" y2="13.75" stroke="#f03a3a" stroke-width="1.0"/>
<line x1="140.0" y1="13.75" x2="144.2" y2="11.7" stroke="#f03a3a" stroke-width="1.0"/>
<line x1="144.2" y1="11.7" x2="148.35" y2="14.2" stroke="#f03a3a" stroke-width="1.0"/>
<line x1="148.35" y1="14.2" x2="152.5" y2="16.7" stroke="#333" stroke-width="1.0"/>
<line x1="152.5" y1="16.7" x2="156.25" y2="14.6" stroke="#333" stroke-width="1.0"/>
<line x1="156.25" y1="14.6" x2="160" y2="12.5" stroke="#333" stroke-width="1.0"/>
<line x1="160" y1="12.5" x2="163.75" y2="14.6" stroke="#333" stroke-width="1.0"/>
<line x1="163.75" y1="14.6" x2="167.5" y2="16.7" stroke="#333" stroke-width="1.0"/>
<line x1="167.5" y1="16.7" x2="171.65" y2="14.6" stroke="#333" stroke-width="1.0"/>
<line x1="171.65" y1="14.6" x2="175.8" y2="12.5" stroke="#333" stroke-width="1.0"/>
<line x1="175.8" y1="12.5" x2="180.0" y2="14.6" stroke="#333" stroke-width="1.0"/>
<line x1="180.0" y1="14.6" x2="184.2" y2="16.7" stroke="#333" stroke-width="1.0"/>
<line x1="184.2" y1="16.7" x2="188.35" y2="14.2" stroke="#333" stroke-width="1.0"/>
<line x1="188.35" y1="14.2" x2="192.5" y2="11.7" stroke="#f03a3a" stroke-width="1.0"/>
<line x1="192.5" y1="11.7" x2="196.65" y2="13.75" stroke="#f03a3a" stroke-width="1.0"/>
<line x1="196.65" y1="13.75" x2="200.8" y2="15.8" stroke="#f03a3a" stroke-width="1.0"/>
<line x1="200.8" y1="15.8" x2="204.9" y2="13.75" stroke="#f03a3a" stroke-width="1.0"/>
<line x1="204.9" y1="13.75" x2="209" y2="11.7" stroke="#f03a3a" stroke-width="1.0"/>
<line x1="209" y1="11.7" x2="214.5" y2="14.85" stroke="#f03a3a" stroke-width="1.0"/>
<line x1="214.5" y1="14.85" x2="220" y2="18" stroke="#333" stroke-width="1.0"/>
<line x1="135.8" y1="15.8" x2="135.8" y2="25" stroke="#f03a3a" stroke-width="0.8"/>
<line x1="200.8" y1="15.8" x2="200.8" y2="25" stroke="#f03a3a" stroke-width="0.8"/>
<circle cx="127.5" cy="11.7" r="2.6" fill="#fdf0f0"/>
<text x="127.5" y="14.0" font-size="6.6" font-weight="bold" text-anchor="middle" fill="#f03a3a" font-family='"Liberation Sans", Arial, sans-serif'>O</text>
<circle cx="144.2" cy="11.7" r="2.6" fill="#fdf0f0"/>
<text x="144.2" y="14.0" font-size="6.6" font-weight="bold" text-anchor="middle" fill="#f03a3a" font-family='"Liberation Sans", Arial, sans-serif'>O</text>
<circle cx="167.5" cy="16.7" r="2.6" fill="#fdf0f0"/>
<text x="167.5" y="19.0" font-size="6.6" font-weight="bold" text-anchor="middle" fill="#333" font-family='"Liberation Sans", Arial, sans-serif'>O</text>
<circle cx="192.5" cy="11.7" r="2.6" fill="#fdf0f0"/>
<text x="192.5" y="14.0" font-size="6.6" font-weight="bold" text-anchor="middle" fill="#f03a3a" font-family='"Liberation Sans", Arial, sans-serif'>O</text>
<circle cx="209" cy="11.7" r="2.6" fill="#fdf0f0"/>
<text x="209" y="14.0" font-size="6.6" font-weight="bold" text-anchor="middle" fill="#f03a3a" font-family='"Liberation Sans", Arial, sans-serif'>O</text>
<polyline points="116.70,45.60 117.03,45.82 117.37,46.03 117.70,46.21 118.03,46.36 118.36,46.47 118.70,46.54 119.03,46.55 119.36,46.51 119.69,46.42 120.03,46.29 120.36,46.12 120.69,45.92 121.02,45.70 121.36,45.48 121.69,45.26 122.02,45.07 122.35,44.90 122.69,44.77 123.02,44.69 123.35,44.65 123.68,44.67 124.02,44.73 124.35,44.85 124.68,45.00 125.01,45.19 125.35,45.40 125.68,45.62 126.01,45.84 126.35,46.05 126.68,46.23 127.01,46.38 127.34,46.48 127.68,46.54 128.01,46.55 128.34,46.50 128.67,46.41 129.01,46.27 129.34,46.10 129.67,45.90 130.00,45.68 130.34,45.46 130.67,45.25 131.00,45.05 131.33,44.89 131.67,44.76 132.00,44.68 132.33,44.65 132.66,44.67 133.00,44.74 133.33,44.86 133.66,45.02 133.99,45.21 134.33,45.42 134.66,45.64 134.99,45.86 135.32,46.06 135.66,46.24 135.99,46.39 136.32,46.49 136.66,46.54 136.99,46.54 137.32,46.50 137.65,46.40 137.99,46.26 138.32,46.08 138.65,45.88 138.98,45.66 139.32,45.44 139.65,45.23 139.98,45.04 140.31,44.87 140.65,44.75 140.98,44.68 141.31,44.65 141.64,44.68 141.98,44.75 142.31,44.87 142.64,45.03 142.97,45.23 143.31,45.44 143.64,45.66 143.97,45.88 144.30,46.08 144.64,46.26 144.97,46.40 145.30,46.50 145.64,46.54 145.97,46.54 146.30,46.49 146.63,46.39 146.97,46.24 147.30,46.06 147.63,45.86 147.96,45.64 148.30,45.42 148.63,45.21 148.96,45.02 149.29,44.86 149.63,44.74 149.96,44.67 150.29,44.65 150.62,44.68 150.96,44.76 151.29,44.89 151.62,45.05 151.95,45.24 152.29,45.46 152.62,45.68 152.95,45.90 153.28,46.10 153.62,46.27 153.95,46.41 154.28,46.50 154.62,46.55 154.95,46.54 155.28,46.48 155.61,46.38 155.95,46.23 156.28,46.05 156.61,45.84 156.94,45.62 157.28,45.40 157.61,45.19 157.94,45.00 158.27,44.85 158.61,44.73 158.94,44.67 159.27,44.65 159.60,44.69 159.94,44.77 160.27,44.90 160.60,45.07 160.93,45.26 161.27,45.48 161.60,45.70 161.93,45.92 162.26,46.11 162.60,46.28 162.93,46.42 163.26,46.51 163.59,46.55 163.93,46.54 164.26,46.47 164.59,46.36 164.93,46.21 165.26,46.03 165.59,45.82 165.92,45.60 166.26,45.38 166.59,45.17 166.92,44.99 167.25,44.84 167.59,44.73 167.92,44.66 168.25,44.65 168.58,44.69 168.92,44.78 169.25,44.91 169.58,45.08 169.91,45.28 170.25,45.50 170.58,45.72 170.91,45.93 171.24,46.13 171.58,46.30 171.91,46.43 172.24,46.51 172.57,46.55 172.91,46.53 173.24,46.47 173.57,46.35 173.91,46.20 174.24,46.01 174.57,45.80 174.90,45.58 175.24,45.36 175.57,45.16 175.90,44.97 176.23,44.83 176.57,44.72 176.90,44.66 177.23,44.65 177.56,44.70 177.90,44.79 178.23,44.93 178.56,45.10 178.89,45.30 179.23,45.52 179.56,45.74 179.89,45.95 180.22,46.15 180.56,46.31 180.89,46.44 181.22,46.52 181.55,46.55 181.89,46.53 182.22,46.46 182.55,46.34 182.88,46.18 183.22,45.99 183.55,45.78 183.88,45.56 184.22,45.34 184.55,45.14 184.88,44.96 185.21,44.81 185.55,44.71 185.88,44.66 186.21,44.66 186.54,44.70 186.88,44.80 187.21,44.94 187.54,45.12 187.87,45.32 188.21,45.54 188.54,45.76 188.87,45.97 189.20,46.16 189.54,46.33 189.87,46.45 190.20,46.52 190.53,46.55 190.87,46.52 191.20,46.45 191.53,46.33 191.86,46.17 192.20,45.97 192.53,45.76 192.86,45.54 193.20,45.32 193.53,45.12 193.86,44.94 194.19,44.80 194.53,44.70 194.86,44.66 195.19,44.66 195.52,44.71 195.86,44.81 196.19,44.96 196.52,45.13 196.85,45.34 197.19,45.56 197.52,45.78 197.85,45.99 198.18,46.18 198.52,46.34 198.85,46.46 199.18,46.53 199.51,46.55 199.85,46.52 200.18,46.44 200.51,46.31 200.84,46.15 201.18,45.96 201.51,45.74 201.84,45.52 202.18,45.30 202.51,45.10 202.84,44.93 203.17,44.79 203.51,44.70 203.84,44.65 204.17,44.66 204.50,44.72 204.84,44.82 205.17,44.97 205.50,45.15 205.83,45.36 206.17,45.58 206.50,45.80 206.83,46.01 207.16,46.19 207.50,46.35 207.83,46.46 208.16,46.53 208.49,46.55 208.83,46.51 209.16,46.43 209.49,46.30 209.82,46.13 210.16,45.94 210.49,45.72 210.82,45.50 211.15,45.29 211.49,45.09 211.82,44.92 212.15,44.78 212.49,44.69 212.82,44.65 213.15,44.66 213.48,44.73 213.82,44.83 214.15,44.99 214.48,45.17 214.81,45.38 215.15,45.60 215.48,45.82 215.81,46.03 216.14,46.21 216.48,46.36 216.81,46.47 217.14,46.54 217.47,46.55 217.81,46.51 218.14,46.42 218.47,46.29 218.80,46.12 219.14,45.92 219.47,45.70 219.80,45.48 220.13,45.27 220.47,45.07 220.80,44.90" fill="none" stroke="#2b7fd0" stroke-width="1.2" stroke-linecap="round"/>
<ellipse cx="133.3" cy="45.3" rx="2.0" ry="1.3" fill="#e8101a"/>
<ellipse cx="150.8" cy="45.3" rx="2.0" ry="1.3" fill="#e8101a"/>
<ellipse cx="169.2" cy="45.3" rx="2.0" ry="1.3" fill="#e8101a"/>
<ellipse cx="186.7" cy="45.3" rx="2.0" ry="1.3" fill="#e8101a"/>
<ellipse cx="205" cy="45.3" rx="2.0" ry="1.3" fill="#e8101a"/>
<circle cx="169.2" cy="45.5" r="3.6" fill="none" stroke="#f08080" stroke-width="0.7"/>
<text x="128.30" y="65.70" font-size="7.6" font-weight="bold" fill="#1a1a1a" text-anchor="start" stroke="#1a1a1a" stroke-width="0.18" textLength="75" lengthAdjust="spacingAndGlyphs" font-family='"Liberation Sans", Arial, sans-serif' >PLLA-DEGDVE (P-D)</text>
<text x="227.50" y="30.80" font-size="7.2" font-weight="bold" fill="#f23a3a" text-anchor="start" stroke="#f23a3a" stroke-width="0.18" textLength="59" lengthAdjust="spacingAndGlyphs" font-family='"Liberation Sans", Arial, sans-serif' >DOX·HCl loading</text>
<circle cx="292" cy="28.7" r="3.6" fill="#eef29a" opacity="0.9"/>
<line x1="223.3" y1="37.5" x2="289" y2="37.5" stroke="#222" stroke-width="0.9"/>
<polygon points="292.5,37.5 288,35.8 288,39.2" fill="#222"/>
<text x="227.00" y="48.00" font-size="7.3" font-weight="normal" fill="#151515" text-anchor="start" textLength="61.3" lengthAdjust="spacingAndGlyphs" font-family='"Liberation Sans", Arial, sans-serif' stroke="#151515" stroke-width="0.3">Double-emulsion</text>
<text x="228.30" y="56.70" font-size="7.3" font-weight="normal" fill="#151515" text-anchor="start" textLength="33.4" lengthAdjust="spacingAndGlyphs" font-family='"Liberation Sans", Arial, sans-serif' stroke="#151515" stroke-width="0.3">approach</text>
<text x="309.60" y="67.70" font-size="7.0" font-weight="bold" fill="#1a1a1a" text-anchor="start" stroke="#1a1a1a" stroke-width="0.18" textLength="32.2" lengthAdjust="spacingAndGlyphs" font-family='"Liberation Sans", Arial, sans-serif' >DOX/P-D</text>
<text x="309.60" y="87.60" font-size="7.5" font-weight="normal" fill="#202020" text-anchor="start" textLength="44.6" lengthAdjust="spacingAndGlyphs" font-family='"Liberation Sans", Arial, sans-serif' stroke="#202020" stroke-width="0.15">Intratumoral</text>
<text x="310.00" y="96.60" font-size="7.5" font-weight="normal" fill="#202020" text-anchor="start" textLength="51.6" lengthAdjust="spacingAndGlyphs" font-family='"Liberation Sans", Arial, sans-serif' stroke="#202020" stroke-width="0.15">administration</text>
<text x="10.80" y="244.90" font-size="21.5" font-weight="normal" fill="#111" text-anchor="start" stroke="#111" stroke-width="0.15" font-family='"Liberation Serif", "Times New Roman", serif' >b</text>
<line x1="31.60" y1="274.60" x2="39.43" y2="270.32" stroke="#2a2a2a" stroke-width="1.0" stroke-linecap="round"/>
<line x1="39.43" y1="270.32" x2="47.27" y2="266.04" stroke="#f03a3a" stroke-width="1.0" stroke-linecap="round"/>
<line x1="52.57" y1="265.96" x2="57.34" y2="268.38" stroke="#f03a3a" stroke-width="1.0" stroke-linecap="round"/>
<line x1="57.34" y1="268.38" x2="62.10" y2="270.80" stroke="#f03a3a" stroke-width="1.0" stroke-linecap="round"/>
<line x1="62.10" y1="270.80" x2="66.72" y2="268.39" stroke="#f03a3a" stroke-width="1.0" stroke-linecap="round"/>
<line x1="66.72" y1="268.39" x2="71.34" y2="265.99" stroke="#f03a3a" stroke-width="1.0" stroke-linecap="round"/>
<line x1="76.59" y1="266.12" x2="81.09" y2="268.76" stroke="#f03a3a" stroke-width="1.0" stroke-linecap="round"/>
<line x1="81.09" y1="268.76" x2="85.60" y2="271.40" stroke="#2a2a2a" stroke-width="1.0" stroke-linecap="round"/>
<line x1="85.60" y1="271.40" x2="91.80" y2="268.20" stroke="#2a2a2a" stroke-width="1.0" stroke-linecap="round"/>
<line x1="91.80" y1="268.20" x2="98.00" y2="265.00" stroke="#2a2a2a" stroke-width="1.0" stroke-linecap="round"/>
<line x1="98.00" y1="265.00" x2="102.43" y2="267.39" stroke="#2a2a2a" stroke-width="1.0" stroke-linecap="round"/>
<line x1="102.43" y1="267.39" x2="106.86" y2="269.78" stroke="#2a2a2a" stroke-width="1.0" stroke-linecap="round"/>
<line x1="112.17" y1="269.83" x2="116.88" y2="267.42" stroke="#2a2a2a" stroke-width="1.0" stroke-linecap="round"/>
<line x1="116.88" y1="267.42" x2="121.60" y2="265.00" stroke="#2a2a2a" stroke-width="1.0" stroke-linecap="round"/>
<line x1="121.60" y1="265.00" x2="127.80" y2="268.20" stroke="#2a2a2a" stroke-width="1.0" stroke-linecap="round"/>
<line x1="127.80" y1="268.20" x2="134.00" y2="271.40" stroke="#2a2a2a" stroke-width="1.0" stroke-linecap="round"/>
<line x1="134.00" y1="271.40" x2="138.20" y2="268.95" stroke="#2a2a2a" stroke-width="1.0" stroke-linecap="round"/>
<line x1="138.20" y1="268.95" x2="142.41" y2="266.51" stroke="#f03a3a" stroke-width="1.0" stroke-linecap="round"/>
<line x1="147.65" y1="266.41" x2="152.32" y2="268.91" stroke="#f03a3a" stroke-width="1.0" stroke-linecap="round"/>
<line x1="152.32" y1="268.91" x2="157.00" y2="271.40" stroke="#f03a3a" stroke-width="1.0" stroke-linecap="round"/>
<line x1="157.00" y1="271.40" x2="161.20" y2="268.95" stroke="#f03a3a" stroke-width="1.0" stroke-linecap="round"/>
<line x1="161.20" y1="268.95" x2="165.41" y2="266.51" stroke="#f03a3a" stroke-width="1.0" stroke-linecap="round"/>
<line x1="170.68" y1="266.34" x2="175.34" y2="268.67" stroke="#f03a3a" stroke-width="1.0" stroke-linecap="round"/>
<line x1="175.34" y1="268.67" x2="180.00" y2="271.00" stroke="#2a2a2a" stroke-width="1.0" stroke-linecap="round"/>
<line x1="180.00" y1="271.00" x2="186.00" y2="268.00" stroke="#2a2a2a" stroke-width="1.0" stroke-linecap="round"/>
<line x1="186.00" y1="268.00" x2="192.00" y2="265.00" stroke="#2a2a2a" stroke-width="1.0" stroke-linecap="round"/>
<line x1="192.00" y1="265.00" x2="197.14" y2="267.37" stroke="#2a2a2a" stroke-width="1.0" stroke-linecap="round"/>
<line x1="197.14" y1="267.37" x2="202.28" y2="269.74" stroke="#2a2a2a" stroke-width="1.0" stroke-linecap="round"/>
<line x1="207.68" y1="269.66" x2="212.34" y2="267.33" stroke="#2a2a2a" stroke-width="1.0" stroke-linecap="round"/>
<line x1="212.34" y1="267.33" x2="217.00" y2="265.00" stroke="#2a2a2a" stroke-width="1.0" stroke-linecap="round"/>
<line x1="217.00" y1="265.00" x2="222.50" y2="268.00" stroke="#2a2a2a" stroke-width="1.0" stroke-linecap="round"/>
<line x1="222.50" y1="268.00" x2="228.00" y2="271.00" stroke="#2a2a2a" stroke-width="1.0" stroke-linecap="round"/>
<line x1="228.00" y1="271.00" x2="232.68" y2="268.51" stroke="#2a2a2a" stroke-width="1.0" stroke-linecap="round"/>
<line x1="232.68" y1="268.51" x2="237.35" y2="266.01" stroke="#2a2a2a" stroke-width="1.0" stroke-linecap="round"/>
<line x1="242.65" y1="266.01" x2="247.32" y2="268.51" stroke="#2a2a2a" stroke-width="1.0" stroke-linecap="round"/>
<line x1="247.32" y1="268.51" x2="252.00" y2="271.00" stroke="#2a2a2a" stroke-width="1.0" stroke-linecap="round"/>
<line x1="252.00" y1="271.00" x2="258.00" y2="268.00" stroke="#2a2a2a" stroke-width="1.0" stroke-linecap="round"/>
<line x1="258.00" y1="268.00" x2="264.00" y2="265.00" stroke="#2a2a2a" stroke-width="1.0" stroke-linecap="round"/>
<line x1="264.00" y1="265.00" x2="267.97" y2="267.42" stroke="#2a2a2a" stroke-width="1.0" stroke-linecap="round"/>
<line x1="267.97" y1="267.42" x2="271.94" y2="269.84" stroke="#2a2a2a" stroke-width="1.0" stroke-linecap="round"/>
<line x1="277.12" y1="269.94" x2="281.56" y2="267.47" stroke="#2a2a2a" stroke-width="1.0" stroke-linecap="round"/>
<line x1="281.56" y1="267.47" x2="286.00" y2="265.00" stroke="#2a2a2a" stroke-width="1.0" stroke-linecap="round"/>
<line x1="286.00" y1="265.00" x2="292.00" y2="268.00" stroke="#2a2a2a" stroke-width="1.0" stroke-linecap="round"/>
<line x1="292.00" y1="268.00" x2="298.00" y2="271.00" stroke="#2a2a2a" stroke-width="1.0" stroke-linecap="round"/>
<line x1="298.00" y1="271.00" x2="302.66" y2="268.67" stroke="#2a2a2a" stroke-width="1.0" stroke-linecap="round"/>
<line x1="302.66" y1="268.67" x2="307.32" y2="266.34" stroke="#2a2a2a" stroke-width="1.0" stroke-linecap="round"/>
<line x1="312.74" y1="266.21" x2="318.17" y2="268.61" stroke="#2a2a2a" stroke-width="1.0" stroke-linecap="round"/>
<line x1="318.17" y1="268.61" x2="323.60" y2="271.00" stroke="#2a2a2a" stroke-width="1.0" stroke-linecap="round"/>
<line x1="323.60" y1="271.00" x2="329.80" y2="268.00" stroke="#2a2a2a" stroke-width="1.0" stroke-linecap="round"/>
<line x1="329.80" y1="268.00" x2="336.00" y2="265.00" stroke="#2a2a2a" stroke-width="1.0" stroke-linecap="round"/>
<line x1="336.00" y1="265.00" x2="343.00" y2="269.00" stroke="#2a2a2a" stroke-width="1.0" stroke-linecap="round"/>
<line x1="343.00" y1="269.00" x2="350.00" y2="273.00" stroke="#2a2a2a" stroke-width="1.0" stroke-linecap="round"/>
<text x="49.90" y="267.10" font-size="7.0" font-weight="normal" fill="#f03a3a" text-anchor="middle" stroke="#f03a3a" stroke-width="0.25" font-family='"Liberation Sans", Arial, sans-serif' >O</text>
<text x="74.00" y="267.10" font-size="7.0" font-weight="normal" fill="#f03a3a" text-anchor="middle" stroke="#f03a3a" stroke-width="0.25" font-family='"Liberation Sans", Arial, sans-serif' >O</text>
<text x="109.50" y="273.70" font-size="7.0" font-weight="normal" fill="#2a2a2a" text-anchor="middle" stroke="#2a2a2a" stroke-width="0.25" font-family='"Liberation Sans", Arial, sans-serif' >O</text>
<text x="145.00" y="267.50" font-size="7.0" font-weight="normal" fill="#f03a3a" text-anchor="middle" stroke="#f03a3a" stroke-width="0.25" font-family='"Liberation Sans", Arial, sans-serif' >O</text>
<text x="168.00" y="267.50" font-size="7.0" font-weight="normal" fill="#f03a3a" text-anchor="middle" stroke="#f03a3a" stroke-width="0.25" font-family='"Liberation Sans", Arial, sans-serif' >O</text>
<text x="205.00" y="273.50" font-size="7.0" font-weight="normal" fill="#2a2a2a" text-anchor="middle" stroke="#2a2a2a" stroke-width="0.25" font-family='"Liberation Sans", Arial, sans-serif' >O</text>
<text x="240.00" y="267.10" font-size="7.0" font-weight="normal" fill="#2a2a2a" text-anchor="middle" stroke="#2a2a2a" stroke-width="0.25" font-family='"Liberation Sans", Arial, sans-serif' >O</text>
<text x="274.50" y="273.90" font-size="7.0" font-weight="normal" fill="#2a2a2a" text-anchor="middle" stroke="#2a2a2a" stroke-width="0.25" font-family='"Liberation Sans", Arial, sans-serif' >O</text>
<text x="310.00" y="267.50" font-size="7.0" font-weight="normal" fill="#2a2a2a" text-anchor="middle" stroke="#2a2a2a" stroke-width="0.25" font-family='"Liberation Sans", Arial, sans-serif' >O</text>
<line x1="62.1" y1="270.8" x2="62.1" y2="285" stroke="#f03a3a" stroke-width="0.85"/>
<line x1="157" y1="271.4" x2="157" y2="285" stroke="#f03a3a" stroke-width="0.85"/>
<polygon points="180,271 178.7,285 181.3,285" fill="#2a2a2a"/>
<polygon points="217,265 215.7,251 218.3,251" fill="#2a2a2a"/>
<polygon points="298,271 296.7,285 299.3,285" fill="#2a2a2a"/>
<line x1="335.77" y1="262.67" x2="336.23" y2="262.67" stroke="#2a2a2a" stroke-width="0.55"/>
<line x1="335.53" y1="260.33" x2="336.47" y2="260.33" stroke="#2a2a2a" stroke-width="0.55"/>
<line x1="335.30" y1="258.00" x2="336.70" y2="258.00" stroke="#2a2a2a" stroke-width="0.55"/>
<line x1="335.07" y1="255.67" x2="336.93" y2="255.67" stroke="#2a2a2a" stroke-width="0.55"/>
<line x1="334.83" y1="253.33" x2="337.17" y2="253.33" stroke="#2a2a2a" stroke-width="0.55"/>
<line x1="334.60" y1="251.00" x2="337.40" y2="251.00" stroke="#2a2a2a" stroke-width="0.55"/>
<line x1="191.1" y1="265" x2="191.1" y2="252.8" stroke="#2a2a2a" stroke-width="0.75"/>
<line x1="192.9" y1="265" x2="192.9" y2="252.8" stroke="#2a2a2a" stroke-width="0.75"/>
<text x="192.00" y="252.50" font-size="7.0" font-weight="normal" fill="#2a2a2a" text-anchor="middle" stroke="#2a2a2a" stroke-width="0.25" font-family='"Liberation Sans", Arial, sans-serif' >O</text>
<line x1="227.1" y1="271" x2="227.1" y2="282.7" stroke="#2a2a2a" stroke-width="0.75"/>
<line x1="228.9" y1="271" x2="228.9" y2="282.7" stroke="#2a2a2a" stroke-width="0.75"/>
<text x="228.00" y="288.00" font-size="7.0" font-weight="normal" fill="#2a2a2a" text-anchor="middle" stroke="#2a2a2a" stroke-width="0.25" font-family='"Liberation Sans", Arial, sans-serif' >O</text>
<line x1="285.1" y1="265" x2="285.1" y2="252.8" stroke="#2a2a2a" stroke-width="0.75"/>
<line x1="286.9" y1="265" x2="286.9" y2="252.8" stroke="#2a2a2a" stroke-width="0.75"/>
<text x="286.00" y="252.50" font-size="7.0" font-weight="normal" fill="#2a2a2a" text-anchor="middle" stroke="#2a2a2a" stroke-width="0.25" font-family='"Liberation Sans", Arial, sans-serif' >O</text>
<line x1="322.70000000000005" y1="271" x2="322.70000000000005" y2="256.3" stroke="#2a2a2a" stroke-width="0.75"/>
<line x1="324.5" y1="271" x2="324.5" y2="256.3" stroke="#2a2a2a" stroke-width="0.75"/>
<text x="323.60" y="256.00" font-size="7.0" font-weight="normal" fill="#2a2a2a" text-anchor="middle" stroke="#2a2a2a" stroke-width="0.25" font-family='"Liberation Sans", Arial, sans-serif' >O</text>
<path d="M199.3,257.8 Q193.4,267.5 199.3,277.2" fill="none" stroke="#2a2a2a" stroke-width="0.85"/>
<path d="M231.1,257.8 Q237.0,267.5 231.1,277.2" fill="none" stroke="#2a2a2a" stroke-width="0.85"/>
<path d="M283.3,257.8 Q277.4,267.5 283.3,277.2" fill="none" stroke="#2a2a2a" stroke-width="0.85"/>
<path d="M315.1,257.8 Q321.0,267.5 315.1,277.2" fill="none" stroke="#2a2a2a" stroke-width="0.85"/>
<text x="233.40" y="280.00" font-size="6.0" font-weight="bold" fill="#2a2a2a" text-anchor="start" stroke="#2a2a2a" stroke-width="0.18" textLength="9.8" lengthAdjust="spacingAndGlyphs" font-family='"Liberation Sans", Arial, sans-serif' >x-1</text>
<text x="318.20" y="280.60" font-size="6.0" font-weight="bold" fill="#2a2a2a" text-anchor="start" stroke="#2a2a2a" stroke-width="0.18" textLength="16.8" lengthAdjust="spacingAndGlyphs" font-family='"Liberation Sans", Arial, sans-serif' >n-x-1</text>
<path d="M43.6,257.7 L41.4,257.7 L41.4,285.9 L43.6,285.9" fill="none" stroke="#2a2a2a" stroke-width="0.75"/>
<path d="M341.8,259 L344,259 L344,285 L341.8,285" fill="none" stroke="#2a2a2a" stroke-width="0.75"/>
<text x="345.80" y="286.60" font-size="6.0" font-weight="bold" fill="#2a2a2a" text-anchor="start" stroke="#2a2a2a" stroke-width="0.18" font-family='"Liberation Sans", Arial, sans-serif' >m</text>
<text x="7.00" y="310.00" font-size="15" font-weight="bold" fill="#ff0a0a" text-anchor="start" stroke="#ff0a0a" stroke-width="0.35" textLength="89.5" lengthAdjust="spacingAndGlyphs" font-family='"Liberation Sans", Arial, sans-serif' >pH-sensitive</text>
<text x="7.00" y="336.00" font-size="15" font-weight="bold" fill="#ff0a0a" text-anchor="start" stroke="#ff0a0a" stroke-width="0.35" textLength="91.3" lengthAdjust="spacingAndGlyphs" font-family='"Liberation Sans", Arial, sans-serif' >acetal bonds</text>
<text x="126.40" y="307.00" font-size="10" font-weight="bold" fill="#1a1a1a" text-anchor="start" stroke="#1a1a1a" stroke-width="0.18" textLength="71.2" lengthAdjust="spacingAndGlyphs" font-family='"Liberation Sans", Arial, sans-serif' >PLLA-DEGDVE</text>
<text x="205.50" y="306.00" font-size="9.5" font-weight="bold" fill="#1a1a1a" text-anchor="start" stroke="#1a1a1a" stroke-width="0.18" textLength="24" lengthAdjust="spacingAndGlyphs" font-family='"Liberation Sans", Arial, sans-serif' >(P-D)</text>
<polyline points="123.60,314.30 123.93,314.60 124.27,314.88 124.60,315.14 124.93,315.35 125.27,315.51 125.60,315.61 125.93,315.65 126.27,315.62 126.60,315.52 126.93,315.36 127.26,315.15 127.60,314.90 127.93,314.62 128.26,314.32 128.60,314.02 128.93,313.74 129.26,313.48 129.60,313.26 129.93,313.10 130.26,312.99 130.60,312.95 130.93,312.98 131.26,313.07 131.60,313.22 131.93,313.43 132.26,313.68 132.59,313.96 132.93,314.26 133.26,314.56 133.59,314.84 133.93,315.10 134.26,315.32 134.59,315.49 134.93,315.60 135.26,315.65 135.59,315.63 135.93,315.54 136.26,315.39 136.59,315.19 136.93,314.94 137.26,314.66 137.59,314.36 137.92,314.06 138.26,313.78 138.59,313.51 138.92,313.29 139.26,313.12 139.59,313.00 139.92,312.95 140.26,312.97 140.59,313.05 140.92,313.20 141.26,313.40 141.59,313.64 141.92,313.92 142.26,314.21 142.59,314.51 142.92,314.80 143.25,315.07 143.59,315.30 143.92,315.47 144.25,315.59 144.59,315.65 144.92,315.63 145.25,315.56 145.59,315.42 145.92,315.22 146.25,314.98 146.59,314.70 146.92,314.41 147.25,314.11 147.59,313.82 147.92,313.55 148.25,313.32 148.58,313.14 148.92,313.01 149.25,312.96 149.58,312.96 149.92,313.04 150.25,313.17 150.58,313.36 150.92,313.60 151.25,313.88 151.58,314.17 151.92,314.47 152.25,314.76 152.58,315.03 152.92,315.27 153.25,315.45 153.58,315.58 153.91,315.64 154.25,315.64 154.58,315.57 154.91,315.44 155.25,315.25 155.58,315.01 155.91,314.74 156.25,314.45 156.58,314.15 156.91,313.86 157.25,313.58 157.58,313.35 157.91,313.16 158.25,313.03 158.58,312.96 158.91,312.96 159.24,313.02 159.58,313.15 159.91,313.33 160.24,313.57 160.58,313.84 160.91,314.13 161.24,314.43 161.58,314.72 161.91,315.00 162.24,315.24 162.58,315.43 162.91,315.56 163.24,315.64 163.58,315.64 163.91,315.59 164.24,315.46 164.57,315.28 164.91,315.05 165.24,314.78 165.57,314.49 165.91,314.19 166.24,313.90 166.57,313.62 166.91,313.38 167.24,313.18 167.57,313.04 167.91,312.97 168.24,312.95 168.57,313.01 168.91,313.13 169.24,313.31 169.57,313.53 169.90,313.80 170.24,314.09 170.57,314.39 170.90,314.68 171.24,314.96 171.57,315.20 171.90,315.40 172.24,315.55 172.57,315.63 172.90,315.65 173.24,315.60 173.57,315.48 173.90,315.31 174.24,315.09 174.57,314.82 174.90,314.53 175.23,314.23 175.57,313.94 175.90,313.66 176.23,313.41 176.57,313.21 176.90,313.06 177.23,312.97 177.57,312.95 177.90,313.00 178.23,313.11 178.57,313.28 178.90,313.50 179.23,313.76 179.57,314.04 179.90,314.34 180.23,314.64 180.57,314.92 180.90,315.17 181.23,315.38 181.56,315.53 181.90,315.62 182.23,315.65 182.56,315.61 182.90,315.50 183.23,315.34 183.56,315.12 183.90,314.86 184.23,314.58 184.56,314.28 184.90,313.98 185.23,313.70 185.56,313.44 185.90,313.23 186.23,313.08 186.56,312.98 186.89,312.95 187.23,312.99 187.56,313.09 187.89,313.25 188.23,313.46 188.56,313.72 188.89,314.00 189.23,314.30 189.56,314.60 189.89,314.88 190.23,315.14 190.56,315.35 190.89,315.51 191.23,315.61 191.56,315.65 191.89,315.62 192.22,315.52 192.56,315.36 192.89,315.15 193.22,314.90 193.56,314.62 193.89,314.32 194.22,314.02 194.56,313.74 194.89,313.48 195.22,313.26 195.56,313.10 195.89,312.99 196.22,312.95 196.56,312.98 196.89,313.07 197.22,313.22 197.55,313.43 197.89,313.68 198.22,313.96 198.55,314.26 198.89,314.56 199.22,314.85 199.55,315.11 199.89,315.33 200.22,315.49 200.55,315.60 200.89,315.65 201.22,315.63 201.55,315.54 201.89,315.39 202.22,315.19 202.55,314.94 202.88,314.66 203.22,314.36 203.55,314.06 203.88,313.77 204.22,313.51 204.55,313.29 204.88,313.12 205.22,313.00 205.55,312.95 205.88,312.97 206.22,313.05 206.55,313.20 206.88,313.40 207.22,313.64 207.55,313.92 207.88,314.22 208.21,314.52 208.55,314.81 208.88,315.07 209.21,315.30 209.55,315.47 209.88,315.59 210.21,315.65 210.55,315.63 210.88,315.56 211.21,315.41 211.55,315.22 211.88,314.98 212.21,314.70 212.55,314.41 212.88,314.11 213.21,313.81 213.54,313.55 213.88,313.32 214.21,313.14 214.54,313.01 214.88,312.96 215.21,312.96 215.54,313.04 215.88,313.17 216.21,313.37 216.54,313.60 216.88,313.88 217.21,314.17 217.54,314.47 217.88,314.77 218.21,315.03 218.54,315.27 218.87,315.45 219.21,315.58 219.54,315.64 219.87,315.64 220.21,315.57 220.54,315.44 220.87,315.25 221.21,315.01 221.54,314.74 221.87,314.45 222.21,314.15 222.54,313.85 222.87,313.58 223.21,313.35 223.54,313.16 223.87,313.03 224.20,312.96 224.54,312.96 224.87,313.02 225.20,313.15 225.54,313.34 225.87,313.57 226.20,313.84 226.54,314.13 226.87,314.43 227.20,314.73 227.54,315.00 227.87,315.24 228.20,315.43 228.54,315.56 228.87,315.64 229.20,315.64 229.53,315.58 229.87,315.46 230.20,315.28 230.53,315.05 230.87,314.78 231.20,314.49 231.53,314.19 231.87,313.90 232.20,313.62" fill="none" stroke="#2b7fd0" stroke-width="1.3" stroke-linecap="round"/>
<ellipse cx="140" cy="313.2" rx="2.4" ry="1.6" fill="#e8101a"/>
<ellipse cx="159" cy="313.2" rx="2.4" ry="1.6" fill="#e8101a"/>
<ellipse cx="177.6" cy="313.2" rx="2.4" ry="1.6" fill="#e8101a"/>
<ellipse cx="196.4" cy="313.2" rx="2.4" ry="1.6" fill="#e8101a"/>
<ellipse cx="215" cy="313.2" rx="2.4" ry="1.6" fill="#e8101a"/>
<text x="382.00" y="33.90" font-size="22" font-weight="normal" fill="#111" text-anchor="start" stroke="#111" stroke-width="0.2" font-family='"Liberation Serif", "Times New Roman", serif' >c</text>
<line x1="411.59999999999997" y1="164.20" x2="414.2" y2="164.20" stroke="#333" stroke-width="0.6"/>
<text x="410.30" y="166.60" font-size="6.8" font-weight="bold" fill="#1a1a1a" text-anchor="end" stroke="#1a1a1a" stroke-width="0.18" font-family='"Liberation Sans", Arial, sans-serif' >0</text>
<line x1="412.59999999999997" y1="147.70" x2="414.2" y2="147.70" stroke="#333" stroke-width="0.6"/>
<line x1="411.59999999999997" y1="131.20" x2="414.2" y2="131.20" stroke="#333" stroke-width="0.6"/>
<text x="410.30" y="133.60" font-size="6.8" font-weight="bold" fill="#1a1a1a" text-anchor="end" stroke="#1a1a1a" stroke-width="0.18" font-family='"Liberation Sans", Arial, sans-serif' >20</text>
<line x1="412.59999999999997" y1="114.70" x2="414.2" y2="114.70" stroke="#333" stroke-width="0.6"/>
<line x1="411.59999999999997" y1="98.20" x2="414.2" y2="98.20" stroke="#333" stroke-width="0.6"/>
<text x="410.30" y="100.60" font-size="6.8" font-weight="bold" fill="#1a1a1a" text-anchor="end" stroke="#1a1a1a" stroke-width="0.18" font-family='"Liberation Sans", Arial, sans-serif' >40</text>
<line x1="412.59999999999997" y1="81.70" x2="414.2" y2="81.70" stroke="#333" stroke-width="0.6"/>
<line x1="411.59999999999997" y1="65.20" x2="414.2" y2="65.20" stroke="#333" stroke-width="0.6"/>
<text x="410.30" y="67.60" font-size="6.8" font-weight="bold" fill="#1a1a1a" text-anchor="end" stroke="#1a1a1a" stroke-width="0.18" font-family='"Liberation Sans", Arial, sans-serif' >60</text>
<line x1="412.59999999999997" y1="48.70" x2="414.2" y2="48.70" stroke="#333" stroke-width="0.6"/>
<line x1="411.59999999999997" y1="32.20" x2="414.2" y2="32.20" stroke="#333" stroke-width="0.6"/>
<text x="410.30" y="34.60" font-size="6.8" font-weight="bold" fill="#1a1a1a" text-anchor="end" stroke="#1a1a1a" stroke-width="0.18" font-family='"Liberation Sans", Arial, sans-serif' >80</text>
<line x1="414.20" y1="164.2" x2="414.20" y2="166.79999999999998" stroke="#333" stroke-width="0.6"/>
<text x="414.20" y="174.60" font-size="6.8" font-weight="bold" fill="#1a1a1a" text-anchor="middle" stroke="#1a1a1a" stroke-width="0.18" font-family='"Liberation Sans", Arial, sans-serif' >0</text>
<line x1="428.78" y1="164.2" x2="428.78" y2="166.79999999999998" stroke="#333" stroke-width="0.6"/>
<text x="428.78" y="174.60" font-size="6.8" font-weight="bold" fill="#1a1a1a" text-anchor="middle" stroke="#1a1a1a" stroke-width="0.18" font-family='"Liberation Sans", Arial, sans-serif' >4</text>
<line x1="443.37" y1="164.2" x2="443.37" y2="166.79999999999998" stroke="#333" stroke-width="0.6"/>
<text x="443.37" y="174.60" font-size="6.8" font-weight="bold" fill="#1a1a1a" text-anchor="middle" stroke="#1a1a1a" stroke-width="0.18" font-family='"Liberation Sans", Arial, sans-serif' >8</text>
<line x1="457.95" y1="164.2" x2="457.95" y2="166.79999999999998" stroke="#333" stroke-width="0.6"/>
<text x="457.95" y="174.60" font-size="6.8" font-weight="bold" fill="#1a1a1a" text-anchor="middle" stroke="#1a1a1a" stroke-width="0.18" font-family='"Liberation Sans", Arial, sans-serif' >12</text>
<line x1="472.54" y1="164.2" x2="472.54" y2="166.79999999999998" stroke="#333" stroke-width="0.6"/>
<text x="472.54" y="174.60" font-size="6.8" font-weight="bold" fill="#1a1a1a" text-anchor="middle" stroke="#1a1a1a" stroke-width="0.18" font-family='"Liberation Sans", Arial, sans-serif' >16</text>
<line x1="487.12" y1="164.2" x2="487.12" y2="166.79999999999998" stroke="#333" stroke-width="0.6"/>
<text x="487.12" y="174.60" font-size="6.8" font-weight="bold" fill="#1a1a1a" text-anchor="middle" stroke="#1a1a1a" stroke-width="0.18" font-family='"Liberation Sans", Arial, sans-serif' >20</text>
<line x1="501.70" y1="164.2" x2="501.70" y2="166.79999999999998" stroke="#333" stroke-width="0.6"/>
<text x="501.70" y="174.60" font-size="6.8" font-weight="bold" fill="#1a1a1a" text-anchor="middle" stroke="#1a1a1a" stroke-width="0.18" font-family='"Liberation Sans", Arial, sans-serif' >24</text>
<line x1="516.29" y1="164.2" x2="516.29" y2="166.79999999999998" stroke="#333" stroke-width="0.6"/>
<text x="516.29" y="174.60" font-size="6.8" font-weight="bold" fill="#1a1a1a" text-anchor="middle" stroke="#1a1a1a" stroke-width="0.18" font-family='"Liberation Sans", Arial, sans-serif' >28</text>
<line x1="530.87" y1="164.2" x2="530.87" y2="166.79999999999998" stroke="#333" stroke-width="0.6"/>
<text x="530.87" y="174.60" font-size="6.8" font-weight="bold" fill="#1a1a1a" text-anchor="middle" stroke="#1a1a1a" stroke-width="0.18" font-family='"Liberation Sans", Arial, sans-serif' >32</text>
<line x1="545.46" y1="164.2" x2="545.46" y2="166.79999999999998" stroke="#333" stroke-width="0.6"/>
<text x="545.46" y="174.60" font-size="6.8" font-weight="bold" fill="#1a1a1a" text-anchor="middle" stroke="#1a1a1a" stroke-width="0.18" font-family='"Liberation Sans", Arial, sans-serif' >36</text>
<line x1="560.04" y1="164.2" x2="560.04" y2="166.79999999999998" stroke="#333" stroke-width="0.6"/>
<text x="560.04" y="174.60" font-size="6.8" font-weight="bold" fill="#1a1a1a" text-anchor="middle" stroke="#1a1a1a" stroke-width="0.18" font-family='"Liberation Sans", Arial, sans-serif' >40</text>
<line x1="574.62" y1="164.2" x2="574.62" y2="166.79999999999998" stroke="#333" stroke-width="0.6"/>
<text x="574.62" y="174.60" font-size="6.8" font-weight="bold" fill="#1a1a1a" text-anchor="middle" stroke="#1a1a1a" stroke-width="0.18" font-family='"Liberation Sans", Arial, sans-serif' >44</text>
<line x1="589.21" y1="164.2" x2="589.21" y2="166.79999999999998" stroke="#333" stroke-width="0.6"/>
<text x="589.21" y="174.60" font-size="6.8" font-weight="bold" fill="#1a1a1a" text-anchor="middle" stroke="#1a1a1a" stroke-width="0.18" font-family='"Liberation Sans", Arial, sans-serif' >48</text>
<text x="492.00" y="186.80" font-size="7.4" font-weight="bold" fill="#1a1a1a" text-anchor="start" stroke="#1a1a1a" stroke-width="0.18" textLength="27.7" lengthAdjust="spacingAndGlyphs" font-family='"Liberation Sans", Arial, sans-serif' >Time (h)</text>
<text transform="translate(397.0,130) rotate(-90)" font-size="7.3" font-weight="bold" fill="#1a1a1a" textLength="79.2" lengthAdjust="spacingAndGlyphs" font-family='"Liberation Sans", Arial, sans-serif'>Cumulative Release (%)</text>
<polyline points="414.20,164.20 414.81,162.24 415.42,160.50 416.02,158.97 416.63,157.60 417.24,156.39 417.85,155.32 418.45,154.37 419.06,153.53 419.67,152.79 420.28,152.12 420.88,151.53 421.49,151.01 422.10,150.55 422.71,150.13 423.31,149.77 423.92,149.44 424.53,149.15 425.14,148.89 425.75,148.66 426.35,148.45 426.96,148.26 427.57,148.10 428.18,147.95 428.78,147.82 429.39,147.70 430.00,147.59 430.61,147.49 431.21,147.40 431.82,147.32 432.43,147.25 433.04,147.18 433.65,147.12 434.25,147.06 434.86,147.01 435.47,146.96 436.08,146.92 436.68,146.88 437.29,146.84 437.90,146.80 438.51,146.77 439.11,146.74 439.72,146.71 440.33,146.68 440.94,146.65 441.54,146.63 442.15,146.60 442.76,146.58 443.37,146.55 443.98,146.53 444.58,146.51 445.19,146.49 445.80,146.46 446.41,146.44 447.01,146.42 447.62,146.40 448.23,146.38 448.84,146.36 449.44,146.34 450.05,146.33 450.66,146.31 451.27,146.29 451.88,146.27 452.48,146.25 453.09,146.23 453.70,146.21 454.31,146.20 454.91,146.18 455.52,146.16 456.13,146.14 456.74,146.13 457.34,146.11 457.95,146.09 458.56,146.07 459.17,146.05 459.77,146.04 460.38,146.02 460.99,146.00 461.60,145.98 462.21,145.97 462.81,145.95 463.42,145.93 464.03,145.91 464.64,145.90 465.24,145.88 465.85,145.86 466.46,145.84 467.07,145.83 467.67,145.81 468.28,145.79 468.89,145.77 469.50,145.76 470.11,145.74 470.71,145.72 471.32,145.70 471.93,145.69 472.54,145.67 473.14,145.65 473.75,145.63 474.36,145.62 474.97,145.60 475.57,145.58 476.18,145.56 476.79,145.55 477.40,145.53 478.00,145.51 478.61,145.49 479.22,145.48 479.83,145.46 480.44,145.44 481.04,145.42 481.65,145.41 482.26,145.39 482.87,145.37 483.47,145.35 484.08,145.34 484.69,145.32 485.30,145.30 485.90,145.28 486.51,145.27 487.12,145.25 487.73,145.23 488.34,145.22 488.94,145.20 489.55,145.18 490.16,145.16 490.77,145.15 491.37,145.13 491.98,145.11 492.59,145.09 493.20,145.08 493.80,145.06 494.41,145.04 495.02,145.02 495.63,145.01 496.24,144.99 496.84,144.97 497.45,144.95 498.06,144.94 498.67,144.92 499.27,144.90 499.88,144.88 500.49,144.87 501.10,144.85 501.70,144.83 502.31,144.81 502.92,144.80 503.53,144.78 504.13,144.76 504.74,144.74 505.35,144.73 505.96,144.71 506.57,144.69 507.17,144.67 507.78,144.66 508.39,144.64 509.00,144.62 509.60,144.60 510.21,144.59 510.82,144.57 511.43,144.55 512.03,144.54 512.64,144.52 513.25,144.50 513.86,144.48 514.47,144.47 515.07,144.45 515.68,144.43 516.29,144.41 516.90,144.40 517.50,144.38 518.11,144.36 518.72,144.34 519.33,144.33 519.93,144.31 520.54,144.29 521.15,144.27 521.76,144.26 522.36,144.24 522.97,144.22 523.58,144.20 524.19,144.19 524.80,144.17 525.40,144.15 526.01,144.13 526.62,144.12 527.23,144.10 527.83,144.08 528.44,144.06 529.05,144.05 529.66,144.03 530.26,144.01 530.87,143.99 531.48,143.98 532.09,143.96 532.69,143.94 533.30,143.93 533.91,143.91 534.52,143.89 535.13,143.87 535.73,143.86 536.34,143.84 536.95,143.82 537.56,143.80 538.16,143.79 538.77,143.77 539.38,143.75 539.99,143.73 540.59,143.72 541.20,143.70 541.81,143.68 542.42,143.66 543.03,143.65 543.63,143.63 544.24,143.61 544.85,143.59 545.46,143.58 546.06,143.56 546.67,143.54 547.28,143.52 547.89,143.51 548.49,143.49 549.10,143.47 549.71,143.45 550.32,143.44 550.92,143.42 551.53,143.40 552.14,143.38 552.75,143.37 553.36,143.35 553.96,143.33 554.57,143.31 555.18,143.30 555.79,143.28 556.39,143.26 557.00,143.25 557.61,143.23 558.22,143.21 558.82,143.19 559.43,143.18 560.04,143.16 560.65,143.14 561.26,143.12 561.86,143.11 562.47,143.09 563.08,143.07 563.69,143.05 564.29,143.04 564.90,143.02 565.51,143.00 566.12,142.98 566.72,142.97 567.33,142.95 567.94,142.93 568.55,142.91 569.15,142.90 569.76,142.88 570.37,142.86 570.98,142.84 571.59,142.83 572.19,142.81 572.80,142.79 573.41,142.77 574.02,142.76 574.62,142.74 575.23,142.72 575.84,142.70 576.45,142.69 577.05,142.67 577.66,142.65 578.27,142.63 578.88,142.62 579.49,142.60 580.09,142.58 580.70,142.57 581.31,142.55 581.92,142.53 582.52,142.51 583.13,142.50 583.74,142.48 584.35,142.46 584.95,142.44 585.56,142.43 586.17,142.41 586.78,142.39 587.38,142.37 587.99,142.36 588.60,142.34 589.21,142.32 589.82,142.30 590.42,142.29 591.03,142.27 591.64,142.25 592.25,142.23 592.85,142.22 593.46,142.20 594.07,142.18 594.68,142.16 595.28,142.15 595.89,142.13 596.50,142.11" fill="none" stroke="#2a2a8a" stroke-width="0.9"/>
<polyline points="414.20,164.20 414.81,161.67 415.42,159.40 416.02,157.37 416.63,155.56 417.24,153.94 417.85,152.49 418.45,151.19 419.06,150.02 419.67,148.98 420.28,148.04 420.88,147.20 421.49,146.45 422.10,145.77 422.71,145.17 423.31,144.62 423.92,144.13 424.53,143.69 425.14,143.29 425.75,142.93 426.35,142.61 426.96,142.31 427.57,142.05 428.18,141.81 428.78,141.59 429.39,141.39 430.00,141.21 430.61,141.04 431.21,140.89 431.82,140.75 432.43,140.62 433.04,140.51 433.65,140.40 434.25,140.30 434.86,140.20 435.47,140.11 436.08,140.03 436.68,139.96 437.29,139.88 437.90,139.82 438.51,139.75 439.11,139.69 439.72,139.63 440.33,139.58 440.94,139.52 441.54,139.47 442.15,139.42 442.76,139.37 443.37,139.33 443.98,139.28 444.58,139.24 445.19,139.19 445.80,139.15 446.41,139.11 447.01,139.07 447.62,139.03 448.23,138.99 448.84,138.95 449.44,138.91 450.05,138.88 450.66,138.84 451.27,138.80 451.88,138.77 452.48,138.73 453.09,138.69 453.70,138.66 454.31,138.62 454.91,138.58 455.52,138.55 456.13,138.51 456.74,138.48 457.34,138.44 457.95,138.41 458.56,138.37 459.17,138.34 459.77,138.30 460.38,138.27 460.99,138.23 461.60,138.20 462.21,138.16 462.81,138.13 463.42,138.09 464.03,138.06 464.64,138.02 465.24,137.99 465.85,137.95 466.46,137.92 467.07,137.89 467.67,137.85 468.28,137.82 468.89,137.78 469.50,137.75 470.11,137.71 470.71,137.68 471.32,137.64 471.93,137.61 472.54,137.58 473.14,137.54 473.75,137.51 474.36,137.47 474.97,137.44 475.57,137.40 476.18,137.37 476.79,137.33 477.40,137.30 478.00,137.27 478.61,137.23 479.22,137.20 479.83,137.16 480.44,137.13 481.04,137.09 481.65,137.06 482.26,137.02 482.87,136.99 483.47,136.96 484.08,136.92 484.69,136.89 485.30,136.85 485.90,136.82 486.51,136.78 487.12,136.75 487.73,136.71 488.34,136.68 488.94,136.65 489.55,136.61 490.16,136.58 490.77,136.54 491.37,136.51 491.98,136.47 492.59,136.44 493.20,136.40 493.80,136.37 494.41,136.34 495.02,136.30 495.63,136.27 496.24,136.23 496.84,136.20 497.45,136.16 498.06,136.13 498.67,136.10 499.27,136.06 499.88,136.03 500.49,135.99 501.10,135.96 501.70,135.92 502.31,135.89 502.92,135.85 503.53,135.82 504.13,135.79 504.74,135.75 505.35,135.72 505.96,135.68 506.57,135.65 507.17,135.61 507.78,135.58 508.39,135.54 509.00,135.51 509.60,135.48 510.21,135.44 510.82,135.41 511.43,135.37 512.03,135.34 512.64,135.30 513.25,135.27 513.86,135.24 514.47,135.20 515.07,135.17 515.68,135.13 516.29,135.10 516.90,135.06 517.50,135.03 518.11,134.99 518.72,134.96 519.33,134.93 519.93,134.89 520.54,134.86 521.15,134.82 521.76,134.79 522.36,134.75 522.97,134.72 523.58,134.68 524.19,134.65 524.80,134.62 525.40,134.58 526.01,134.55 526.62,134.51 527.23,134.48 527.83,134.44 528.44,134.41 529.05,134.38 529.66,134.34 530.26,134.31 530.87,134.27 531.48,134.24 532.09,134.20 532.69,134.17 533.30,134.13 533.91,134.10 534.52,134.07 535.13,134.03 535.73,134.00 536.34,133.96 536.95,133.93 537.56,133.89 538.16,133.86 538.77,133.82 539.38,133.79 539.99,133.76 540.59,133.72 541.20,133.69 541.81,133.65 542.42,133.62 543.03,133.58 543.63,133.55 544.24,133.52 544.85,133.48 545.46,133.45 546.06,133.41 546.67,133.38 547.28,133.34 547.89,133.31 548.49,133.27 549.10,133.24 549.71,133.21 550.32,133.17 550.92,133.14 551.53,133.10 552.14,133.07 552.75,133.03 553.36,133.00 553.96,132.96 554.57,132.93 555.18,132.90 555.79,132.86 556.39,132.83 557.00,132.79 557.61,132.76 558.22,132.72 558.82,132.69 559.43,132.66 560.04,132.62 560.65,132.59 561.26,132.55 561.86,132.52 562.47,132.48 563.08,132.45 563.69,132.41 564.29,132.38 564.90,132.35 565.51,132.31 566.12,132.28 566.72,132.24 567.33,132.21 567.94,132.17 568.55,132.14 569.15,132.10 569.76,132.07 570.37,132.04 570.98,132.00 571.59,131.97 572.19,131.93 572.80,131.90 573.41,131.86 574.02,131.83 574.62,131.79 575.23,131.76 575.84,131.73 576.45,131.69 577.05,131.66 577.66,131.62 578.27,131.59 578.88,131.55 579.49,131.52 580.09,131.49 580.70,131.45 581.31,131.42 581.92,131.38 582.52,131.35 583.13,131.31 583.74,131.28 584.35,131.24 584.95,131.21 585.56,131.18 586.17,131.14 586.78,131.11 587.38,131.07 587.99,131.04 588.60,131.00 589.21,130.97 589.82,130.93 590.42,130.90 591.03,130.87 591.64,130.83 592.25,130.80 592.85,130.76 593.46,130.73 594.07,130.69 594.68,130.66 595.28,130.63 595.89,130.59 596.50,130.56" fill="none" stroke="#ff2a2a" stroke-width="0.9"/>
<polyline points="414.20,164.20 414.81,161.48 415.42,159.03 416.02,156.81 416.63,154.82 417.24,153.01 417.85,151.39 418.45,149.91 419.06,148.59 419.67,147.39 420.28,146.30 420.88,145.32 421.49,144.43 422.10,143.63 422.71,142.90 423.31,142.25 423.92,141.65 424.53,141.11 425.14,140.62 425.75,140.17 426.35,139.77 426.96,139.40 427.57,139.06 428.18,138.76 428.78,138.48 429.39,138.23 430.00,137.99 430.61,137.78 431.21,137.59 431.82,137.41 432.43,137.24 433.04,137.09 433.65,136.95 434.25,136.82 434.86,136.70 435.47,136.59 436.08,136.48 436.68,136.39 437.29,136.29 437.90,136.21 438.51,136.13 439.11,136.05 439.72,135.98 440.33,135.91 440.94,135.85 441.54,135.79 442.15,135.73 442.76,135.67 443.37,135.62 443.98,135.56 444.58,135.51 445.19,135.47 445.80,135.42 446.41,135.37 447.01,135.33 447.62,135.28 448.23,135.24 448.84,135.20 449.44,135.16 450.05,135.12 450.66,135.08 451.27,135.04 451.88,135.00 452.48,134.96 453.09,134.92 453.70,134.88 454.31,134.85 454.91,134.81 455.52,134.77 456.13,134.74 456.74,134.70 457.34,134.66 457.95,134.63 458.56,134.59 459.17,134.56 459.77,134.52 460.38,134.48 460.99,134.45 461.60,134.41 462.21,134.38 462.81,134.34 463.42,134.31 464.03,134.27 464.64,134.24 465.24,134.20 465.85,134.17 466.46,134.14 467.07,134.10 467.67,134.07 468.28,134.03 468.89,134.00 469.50,133.96 470.11,133.93 470.71,133.89 471.32,133.86 471.93,133.82 472.54,133.79 473.14,133.76 473.75,133.72 474.36,133.69 474.97,133.65 475.57,133.62 476.18,133.58 476.79,133.55 477.40,133.52 478.00,133.48 478.61,133.45 479.22,133.41 479.83,133.38 480.44,133.34 481.04,133.31 481.65,133.27 482.26,133.24 482.87,133.21 483.47,133.17 484.08,133.14 484.69,133.10 485.30,133.07 485.90,133.03 486.51,133.00 487.12,132.97 487.73,132.93 488.34,132.90 488.94,132.86 489.55,132.83 490.16,132.79 490.77,132.76 491.37,132.73 491.98,132.69 492.59,132.66 493.20,132.62 493.80,132.59 494.41,132.55 495.02,132.52 495.63,132.49 496.24,132.45 496.84,132.42 497.45,132.38 498.06,132.35 498.67,132.31 499.27,132.28 499.88,132.25 500.49,132.21 501.10,132.18 501.70,132.14 502.31,132.11 502.92,132.07 503.53,132.04 504.13,132.01 504.74,131.97 505.35,131.94 505.96,131.90 506.57,131.87 507.17,131.83 507.78,131.80 508.39,131.77 509.00,131.73 509.60,131.70 510.21,131.66 510.82,131.63 511.43,131.59 512.03,131.56 512.64,131.53 513.25,131.49 513.86,131.46 514.47,131.42 515.07,131.39 515.68,131.35 516.29,131.32 516.90,131.29 517.50,131.25 518.11,131.22 518.72,131.18 519.33,131.15 519.93,131.11 520.54,131.08 521.15,131.05 521.76,131.01 522.36,130.98 522.97,130.94 523.58,130.91 524.19,130.87 524.80,130.84 525.40,130.81 526.01,130.77 526.62,130.74 527.23,130.70 527.83,130.67 528.44,130.63 529.05,130.60 529.66,130.57 530.26,130.53 530.87,130.50 531.48,130.46 532.09,130.43 532.69,130.39 533.30,130.36 533.91,130.33 534.52,130.29 535.13,130.26 535.73,130.22 536.34,130.19 536.95,130.15 537.56,130.12 538.16,130.09 538.77,130.05 539.38,130.02 539.99,129.98 540.59,129.95 541.20,129.91 541.81,129.88 542.42,129.85 543.03,129.81 543.63,129.78 544.24,129.74 544.85,129.71 545.46,129.67 546.06,129.64 546.67,129.61 547.28,129.57 547.89,129.54 548.49,129.50 549.10,129.47 549.71,129.43 550.32,129.40 550.92,129.37 551.53,129.33 552.14,129.30 552.75,129.26 553.36,129.23 553.96,129.19 554.57,129.16 555.18,129.13 555.79,129.09 556.39,129.06 557.00,129.02 557.61,128.99 558.22,128.95 558.82,128.92 559.43,128.89 560.04,128.85 560.65,128.82 561.26,128.78 561.86,128.75 562.47,128.71 563.08,128.68 563.69,128.65 564.29,128.61 564.90,128.58 565.51,128.54 566.12,128.51 566.72,128.47 567.33,128.44 567.94,128.41 568.55,128.37 569.15,128.34 569.76,128.30 570.37,128.27 570.98,128.23 571.59,128.20 572.19,128.17 572.80,128.13 573.41,128.10 574.02,128.06 574.62,128.03 575.23,127.99 575.84,127.96 576.45,127.92 577.05,127.89 577.66,127.86 578.27,127.82 578.88,127.79 579.49,127.75 580.09,127.72 580.70,127.68 581.31,127.65 581.92,127.62 582.52,127.58 583.13,127.55 583.74,127.51 584.35,127.48 584.95,127.44 585.56,127.41 586.17,127.38 586.78,127.34 587.38,127.31 587.99,127.27 588.60,127.24 589.21,127.20 589.82,127.17 590.42,127.14 591.03,127.10 591.64,127.07 592.25,127.03 592.85,127.00 593.46,126.96 594.07,126.93 594.68,126.90 595.28,126.86 595.89,126.83 596.50,126.79" fill="none" stroke="#3a3ac0" stroke-width="0.9"/>
<polyline points="414.20,164.20 414.81,161.02 415.42,158.15 416.02,155.55 416.63,153.19 417.24,151.06 417.85,149.14 418.45,147.39 419.06,145.81 419.67,144.37 420.28,143.07 420.88,141.89 421.49,140.82 422.10,139.85 422.71,138.96 423.31,138.16 423.92,137.43 424.53,136.76 425.14,136.15 425.75,135.59 426.35,135.09 426.96,134.62 427.57,134.20 428.18,133.81 428.78,133.45 429.39,133.12 430.00,132.82 430.61,132.54 431.21,132.28 431.82,132.04 432.43,131.81 433.04,131.61 433.65,131.41 434.25,131.23 434.86,131.06 435.47,130.90 436.08,130.75 436.68,130.61 437.29,130.48 437.90,130.35 438.51,130.23 439.11,130.12 439.72,130.01 440.33,129.90 440.94,129.80 441.54,129.70 442.15,129.61 442.76,129.51 443.37,129.42 443.98,129.34 444.58,129.25 445.19,129.17 445.80,129.09 446.41,129.01 447.01,128.93 447.62,128.86 448.23,128.78 448.84,128.71 449.44,128.64 450.05,128.56 450.66,128.49 451.27,128.42 451.88,128.35 452.48,128.28 453.09,128.21 453.70,128.15 454.31,128.08 454.91,128.01 455.52,127.94 456.13,127.88 456.74,127.81 457.34,127.74 457.95,127.68 458.56,127.61 459.17,127.55 459.77,127.48 460.38,127.42 460.99,127.35 461.60,127.29 462.21,127.22 462.81,127.16 463.42,127.09 464.03,127.03 464.64,126.96 465.24,126.90 465.85,126.83 466.46,126.77 467.07,126.70 467.67,126.64 468.28,126.58 468.89,126.51 469.50,126.45 470.11,126.38 470.71,126.32 471.32,126.25 471.93,126.19 472.54,126.13 473.14,126.06 473.75,126.00 474.36,125.93 474.97,125.87 475.57,125.81 476.18,125.74 476.79,125.68 477.40,125.61 478.00,125.55 478.61,125.49 479.22,125.42 479.83,125.36 480.44,125.29 481.04,125.23 481.65,125.17 482.26,125.10 482.87,125.04 483.47,124.97 484.08,124.91 484.69,124.85 485.30,124.78 485.90,124.72 486.51,124.65 487.12,124.59 487.73,124.53 488.34,124.46 488.94,124.40 489.55,124.34 490.16,124.27 490.77,124.21 491.37,124.14 491.98,124.08 492.59,124.02 493.20,123.95 493.80,123.89 494.41,123.82 495.02,123.76 495.63,123.70 496.24,123.63 496.84,123.57 497.45,123.50 498.06,123.44 498.67,123.38 499.27,123.31 499.88,123.25 500.49,123.18 501.10,123.12 501.70,123.06 502.31,122.99 502.92,122.93 503.53,122.87 504.13,122.80 504.74,122.74 505.35,122.67 505.96,122.61 506.57,122.55 507.17,122.48 507.78,122.42 508.39,122.35 509.00,122.29 509.60,122.23 510.21,122.16 510.82,122.10 511.43,122.03 512.03,121.97 512.64,121.91 513.25,121.84 513.86,121.78 514.47,121.71 515.07,121.65 515.68,121.59 516.29,121.52 516.90,121.46 517.50,121.40 518.11,121.33 518.72,121.27 519.33,121.20 519.93,121.14 520.54,121.08 521.15,121.01 521.76,120.95 522.36,120.88 522.97,120.82 523.58,120.76 524.19,120.69 524.80,120.63 525.40,120.56 526.01,120.50 526.62,120.44 527.23,120.37 527.83,120.31 528.44,120.25 529.05,120.18 529.66,120.12 530.26,120.05 530.87,119.99 531.48,119.93 532.09,119.86 532.69,119.80 533.30,119.73 533.91,119.67 534.52,119.61 535.13,119.54 535.73,119.48 536.34,119.41 536.95,119.35 537.56,119.29 538.16,119.22 538.77,119.16 539.38,119.09 539.99,119.03 540.59,118.97 541.20,118.90 541.81,118.84 542.42,118.78 543.03,118.71 543.63,118.65 544.24,118.58 544.85,118.52 545.46,118.46 546.06,118.39 546.67,118.33 547.28,118.26 547.89,118.20 548.49,118.14 549.10,118.07 549.71,118.01 550.32,117.94 550.92,117.88 551.53,117.82 552.14,117.75 552.75,117.69 553.36,117.62 553.96,117.56 554.57,117.50 555.18,117.43 555.79,117.37 556.39,117.31 557.00,117.24 557.61,117.18 558.22,117.11 558.82,117.05 559.43,116.99 560.04,116.92 560.65,116.86 561.26,116.79 561.86,116.73 562.47,116.67 563.08,116.60 563.69,116.54 564.29,116.47 564.90,116.41 565.51,116.35 566.12,116.28 566.72,116.22 567.33,116.15 567.94,116.09 568.55,116.03 569.15,115.96 569.76,115.90 570.37,115.84 570.98,115.77 571.59,115.71 572.19,115.64 572.80,115.58 573.41,115.52 574.02,115.45 574.62,115.39 575.23,115.32 575.84,115.26 576.45,115.20 577.05,115.13 577.66,115.07 578.27,115.00 578.88,114.94 579.49,114.88 580.09,114.81 580.70,114.75 581.31,114.68 581.92,114.62 582.52,114.56 583.13,114.49 583.74,114.43 584.35,114.37 584.95,114.30 585.56,114.24 586.17,114.17 586.78,114.11 587.38,114.05 587.99,113.98 588.60,113.92 589.21,113.85 589.82,113.79 590.42,113.73 591.03,113.66 591.64,113.60 592.25,113.53 592.85,113.47 593.46,113.41 594.07,113.34 594.68,113.28 595.28,113.21 595.89,113.15 596.50,113.09" fill="none" stroke="#4a4a7a" stroke-width="0.9"/>
<polyline points="414.20,164.20 414.81,161.10 415.42,158.17 416.02,155.41 416.63,152.81 417.24,150.35 417.85,148.03 418.45,145.85 419.06,143.78 419.67,141.83 420.28,139.99 420.88,138.25 421.49,136.61 422.10,135.06 422.71,133.59 423.31,132.20 423.92,130.89 424.53,129.65 425.14,128.47 425.75,127.36 426.35,126.31 426.96,125.31 427.57,124.36 428.18,123.46 428.78,122.61 429.39,121.80 430.00,121.03 430.61,120.31 431.21,119.61 431.82,118.95 432.43,118.32 433.04,117.73 433.65,117.16 434.25,116.61 434.86,116.09 435.47,115.60 436.08,115.13 436.68,114.67 437.29,114.24 437.90,113.83 438.51,113.43 439.11,113.05 439.72,112.69 440.33,112.33 440.94,112.00 441.54,111.67 442.15,111.36 442.76,111.06 443.37,110.77 443.98,110.49 444.58,110.22 445.19,109.95 445.80,109.70 446.41,109.45 447.01,109.21 447.62,108.98 448.23,108.75 448.84,108.53 449.44,108.32 450.05,108.11 450.66,107.91 451.27,107.71 451.88,107.51 452.48,107.32 453.09,107.14 453.70,106.96 454.31,106.78 454.91,106.60 455.52,106.43 456.13,106.26 456.74,106.09 457.34,105.93 457.95,105.77 458.56,105.61 459.17,105.45 459.77,105.29 460.38,105.14 460.99,104.99 461.60,104.84 462.21,104.69 462.81,104.54 463.42,104.40 464.03,104.25 464.64,104.11 465.24,103.97 465.85,103.83 466.46,103.69 467.07,103.55 467.67,103.41 468.28,103.28 468.89,103.14 469.50,103.00 470.11,102.87 470.71,102.74 471.32,102.60 471.93,102.47 472.54,102.34 473.14,102.21 473.75,102.07 474.36,101.94 474.97,101.81 475.57,101.68 476.18,101.55 476.79,101.43 477.40,101.30 478.00,101.17 478.61,101.04 479.22,100.91 479.83,100.79 480.44,100.66 481.04,100.53 481.65,100.40 482.26,100.28 482.87,100.15 483.47,100.03 484.08,99.90 484.69,99.77 485.30,99.65 485.90,99.52 486.51,99.40 487.12,99.27 487.73,99.15 488.34,99.02 488.94,98.90 489.55,98.77 490.16,98.65 490.77,98.52 491.37,98.40 491.98,98.27 492.59,98.15 493.20,98.02 493.80,97.90 494.41,97.78 495.02,97.65 495.63,97.53 496.24,97.40 496.84,97.28 497.45,97.15 498.06,97.03 498.67,96.91 499.27,96.78 499.88,96.66 500.49,96.54 501.10,96.41 501.70,96.29 502.31,96.16 502.92,96.04 503.53,95.92 504.13,95.79 504.74,95.67 505.35,95.55 505.96,95.42 506.57,95.30 507.17,95.18 507.78,95.05 508.39,94.93 509.00,94.81 509.60,94.68 510.21,94.56 510.82,94.43 511.43,94.31 512.03,94.19 512.64,94.06 513.25,93.94 513.86,93.82 514.47,93.69 515.07,93.57 515.68,93.45 516.29,93.32 516.90,93.20 517.50,93.08 518.11,92.95 518.72,92.83 519.33,92.71 519.93,92.58 520.54,92.46 521.15,92.34 521.76,92.21 522.36,92.09 522.97,91.97 523.58,91.84 524.19,91.72 524.80,91.60 525.40,91.47 526.01,91.35 526.62,91.23 527.23,91.10 527.83,90.98 528.44,90.86 529.05,90.73 529.66,90.61 530.26,90.49 530.87,90.36 531.48,90.24 532.09,90.12 532.69,90.00 533.30,89.87 533.91,89.75 534.52,89.63 535.13,89.50 535.73,89.38 536.34,89.26 536.95,89.13 537.56,89.01 538.16,88.89 538.77,88.76 539.38,88.64 539.99,88.52 540.59,88.39 541.20,88.27 541.81,88.15 542.42,88.02 543.03,87.90 543.63,87.78 544.24,87.65 544.85,87.53 545.46,87.41 546.06,87.28 546.67,87.16 547.28,87.04 547.89,86.91 548.49,86.79 549.10,86.67 549.71,86.54 550.32,86.42 550.92,86.30 551.53,86.17 552.14,86.05 552.75,85.93 553.36,85.80 553.96,85.68 554.57,85.56 555.18,85.43 555.79,85.31 556.39,85.19 557.00,85.06 557.61,84.94 558.22,84.82 558.82,84.69 559.43,84.57 560.04,84.45 560.65,84.33 561.26,84.20 561.86,84.08 562.47,83.96 563.08,83.83 563.69,83.71 564.29,83.59 564.90,83.46 565.51,83.34 566.12,83.22 566.72,83.09 567.33,82.97 567.94,82.85 568.55,82.72 569.15,82.60 569.76,82.48 570.37,82.35 570.98,82.23 571.59,82.11 572.19,81.98 572.80,81.86 573.41,81.74 574.02,81.61 574.62,81.49 575.23,81.37 575.84,81.24 576.45,81.12 577.05,81.00 577.66,80.87 578.27,80.75 578.88,80.63 579.49,80.50 580.09,80.38 580.70,80.26 581.31,80.13 581.92,80.01 582.52,79.89 583.13,79.76 583.74,79.64 584.35,79.52 584.95,79.39 585.56,79.27 586.17,79.15 586.78,79.03 587.38,78.90 587.99,78.78 588.60,78.66 589.21,78.53 589.82,78.41 590.42,78.29 591.03,78.16 591.64,78.04 592.25,77.92 592.85,77.79 593.46,77.67 594.07,77.55 594.68,77.42 595.28,77.30 595.89,77.18 596.50,77.05" fill="none" stroke="#ff3030" stroke-width="0.9"/>
<polyline points="414.20,164.20 414.81,160.82 415.42,157.57 416.02,154.45 416.63,151.46 417.24,148.59 417.85,145.84 418.45,143.20 419.06,140.66 419.67,138.22 420.28,135.88 420.88,133.64 421.49,131.48 422.10,129.41 422.71,127.42 423.31,125.51 423.92,123.67 424.53,121.91 425.14,120.21 425.75,118.58 426.35,117.02 426.96,115.51 427.57,114.06 428.18,112.67 428.78,111.33 429.39,110.05 430.00,108.81 430.61,107.61 431.21,106.47 431.82,105.36 432.43,104.30 433.04,103.27 433.65,102.29 434.25,101.34 434.86,100.42 435.47,99.54 436.08,98.69 436.68,97.87 437.29,97.08 437.90,96.31 438.51,95.58 439.11,94.87 439.72,94.18 440.33,93.52 440.94,92.88 441.54,92.26 442.15,91.66 442.76,91.08 443.37,90.52 443.98,89.98 444.58,89.46 445.19,88.95 445.80,88.46 446.41,87.98 447.01,87.52 447.62,87.07 448.23,86.64 448.84,86.22 449.44,85.81 450.05,85.41 450.66,85.03 451.27,84.65 451.88,84.29 452.48,83.93 453.09,83.59 453.70,83.25 454.31,82.92 454.91,82.60 455.52,82.29 456.13,81.99 456.74,81.69 457.34,81.40 457.95,81.12 458.56,80.85 459.17,80.58 459.77,80.31 460.38,80.06 460.99,79.80 461.60,79.56 462.21,79.31 462.81,79.08 463.42,78.84 464.03,78.61 464.64,78.39 465.24,78.17 465.85,77.95 466.46,77.74 467.07,77.53 467.67,77.33 468.28,77.12 468.89,76.92 469.50,76.73 470.11,76.53 470.71,76.34 471.32,76.15 471.93,75.97 472.54,75.79 473.14,75.60 473.75,75.43 474.36,75.25 474.97,75.07 475.57,74.90 476.18,74.73 476.79,74.56 477.40,74.39 478.00,74.23 478.61,74.06 479.22,73.90 479.83,73.74 480.44,73.58 481.04,73.42 481.65,73.26 482.26,73.11 482.87,72.95 483.47,72.80 484.08,72.65 484.69,72.49 485.30,72.34 485.90,72.19 486.51,72.04 487.12,71.90 487.73,71.75 488.34,71.60 488.94,71.46 489.55,71.31 490.16,71.17 490.77,71.02 491.37,70.88 491.98,70.74 492.59,70.59 493.20,70.45 493.80,70.31 494.41,70.17 495.02,70.03 495.63,69.89 496.24,69.75 496.84,69.61 497.45,69.48 498.06,69.34 498.67,69.20 499.27,69.06 499.88,68.93 500.49,68.79 501.10,68.66 501.70,68.52 502.31,68.38 502.92,68.25 503.53,68.11 504.13,67.98 504.74,67.85 505.35,67.71 505.96,67.58 506.57,67.44 507.17,67.31 507.78,67.18 508.39,67.04 509.00,66.91 509.60,66.78 510.21,66.65 510.82,66.51 511.43,66.38 512.03,66.25 512.64,66.12 513.25,65.99 513.86,65.85 514.47,65.72 515.07,65.59 515.68,65.46 516.29,65.33 516.90,65.20 517.50,65.07 518.11,64.93 518.72,64.80 519.33,64.67 519.93,64.54 520.54,64.41 521.15,64.28 521.76,64.15 522.36,64.02 522.97,63.89 523.58,63.76 524.19,63.63 524.80,63.50 525.40,63.37 526.01,63.24 526.62,63.11 527.23,62.98 527.83,62.85 528.44,62.72 529.05,62.59 529.66,62.46 530.26,62.33 530.87,62.20 531.48,62.07 532.09,61.94 532.69,61.81 533.30,61.68 533.91,61.55 534.52,61.42 535.13,61.29 535.73,61.16 536.34,61.04 536.95,60.91 537.56,60.78 538.16,60.65 538.77,60.52 539.38,60.39 539.99,60.26 540.59,60.13 541.20,60.00 541.81,59.87 542.42,59.74 543.03,59.61 543.63,59.48 544.24,59.36 544.85,59.23 545.46,59.10 546.06,58.97 546.67,58.84 547.28,58.71 547.89,58.58 548.49,58.45 549.10,58.32 549.71,58.19 550.32,58.06 550.92,57.94 551.53,57.81 552.14,57.68 552.75,57.55 553.36,57.42 553.96,57.29 554.57,57.16 555.18,57.03 555.79,56.90 556.39,56.78 557.00,56.65 557.61,56.52 558.22,56.39 558.82,56.26 559.43,56.13 560.04,56.00 560.65,55.87 561.26,55.74 561.86,55.62 562.47,55.49 563.08,55.36 563.69,55.23 564.29,55.10 564.90,54.97 565.51,54.84 566.12,54.71 566.72,54.58 567.33,54.46 567.94,54.33 568.55,54.20 569.15,54.07 569.76,53.94 570.37,53.81 570.98,53.68 571.59,53.55 572.19,53.42 572.80,53.30 573.41,53.17 574.02,53.04 574.62,52.91 575.23,52.78 575.84,52.65 576.45,52.52 577.05,52.39 577.66,52.27 578.27,52.14 578.88,52.01 579.49,51.88 580.09,51.75 580.70,51.62 581.31,51.49 581.92,51.36 582.52,51.23 583.13,51.11 583.74,50.98 584.35,50.85 584.95,50.72 585.56,50.59 586.17,50.46 586.78,50.33 587.38,50.20 587.99,50.08 588.60,49.95 589.21,49.82 589.82,49.69 590.42,49.56 591.03,49.43 591.64,49.30 592.25,49.17 592.85,49.05 593.46,48.92 594.07,48.79 594.68,48.66 595.28,48.53 595.89,48.40 596.50,48.27" fill="none" stroke="#3a3ac8" stroke-width="0.9"/>
<line x1="425.14" y1="148.19" x2="425.14" y2="149.51" stroke="#222" stroke-width="0.55"/>
<line x1="423.84" y1="148.19" x2="426.44" y2="148.19" stroke="#222" stroke-width="0.55"/>
<line x1="423.84" y1="149.51" x2="426.44" y2="149.51" stroke="#222" stroke-width="0.55"/>
<circle cx="425.14" cy="148.85" r="1.70" fill="#222" stroke="#222" stroke-width="0.6"/>
<line x1="436.08" y1="146.21" x2="436.08" y2="147.86" stroke="#222" stroke-width="0.55"/>
<line x1="434.78" y1="146.21" x2="437.38" y2="146.21" stroke="#222" stroke-width="0.55"/>
<line x1="434.78" y1="147.86" x2="437.38" y2="147.86" stroke="#222" stroke-width="0.55"/>
<circle cx="436.08" cy="147.04" r="1.70" fill="#222" stroke="#222" stroke-width="0.6"/>
<line x1="447.01" y1="145.06" x2="447.01" y2="147.70" stroke="#222" stroke-width="0.55"/>
<line x1="445.71" y1="145.06" x2="448.31" y2="145.06" stroke="#222" stroke-width="0.55"/>
<line x1="445.71" y1="147.70" x2="448.31" y2="147.70" stroke="#222" stroke-width="0.55"/>
<circle cx="447.01" cy="146.38" r="1.70" fill="#222" stroke="#222" stroke-width="0.6"/>
<line x1="457.95" y1="145.55" x2="457.95" y2="147.20" stroke="#222" stroke-width="0.55"/>
<line x1="456.65" y1="145.55" x2="459.25" y2="145.55" stroke="#222" stroke-width="0.55"/>
<line x1="456.65" y1="147.20" x2="459.25" y2="147.20" stroke="#222" stroke-width="0.55"/>
<circle cx="457.95" cy="146.38" r="1.70" fill="#222" stroke="#222" stroke-width="0.6"/>
<line x1="501.70" y1="143.25" x2="501.70" y2="144.89" stroke="#222" stroke-width="0.55"/>
<line x1="500.40" y1="143.25" x2="503.00" y2="143.25" stroke="#222" stroke-width="0.55"/>
<line x1="500.40" y1="144.89" x2="503.00" y2="144.89" stroke="#222" stroke-width="0.55"/>
<circle cx="501.70" cy="144.07" r="1.70" fill="#222" stroke="#222" stroke-width="0.6"/>
<line x1="545.46" y1="143.08" x2="545.46" y2="145.06" stroke="#222" stroke-width="0.55"/>
<line x1="544.16" y1="143.08" x2="546.76" y2="143.08" stroke="#222" stroke-width="0.55"/>
<line x1="544.16" y1="145.06" x2="546.76" y2="145.06" stroke="#222" stroke-width="0.55"/>
<circle cx="545.46" cy="144.07" r="1.70" fill="#222" stroke="#222" stroke-width="0.6"/>
<line x1="589.21" y1="139.78" x2="589.21" y2="144.73" stroke="#222" stroke-width="0.55"/>
<line x1="587.91" y1="139.78" x2="590.51" y2="139.78" stroke="#222" stroke-width="0.55"/>
<line x1="587.91" y1="144.73" x2="590.51" y2="144.73" stroke="#222" stroke-width="0.55"/>
<circle cx="589.21" cy="142.25" r="1.70" fill="#222" stroke="#222" stroke-width="0.6"/>
<line x1="425.14" y1="141.59" x2="425.14" y2="144.89" stroke="#f00" stroke-width="0.55"/>
<line x1="423.84" y1="141.59" x2="426.44" y2="141.59" stroke="#f00" stroke-width="0.55"/>
<line x1="423.84" y1="144.89" x2="426.44" y2="144.89" stroke="#f00" stroke-width="0.55"/>
<circle cx="425.14" cy="143.25" r="1.70" fill="#f00" stroke="#f00" stroke-width="0.6"/>
<line x1="436.08" y1="138.46" x2="436.08" y2="141.76" stroke="#f00" stroke-width="0.55"/>
<line x1="434.78" y1="138.46" x2="437.38" y2="138.46" stroke="#f00" stroke-width="0.55"/>
<line x1="434.78" y1="141.76" x2="437.38" y2="141.76" stroke="#f00" stroke-width="0.55"/>
<circle cx="436.08" cy="140.11" r="1.70" fill="#f00" stroke="#f00" stroke-width="0.6"/>
<line x1="447.01" y1="138.29" x2="447.01" y2="141.59" stroke="#f00" stroke-width="0.55"/>
<line x1="445.71" y1="138.29" x2="448.31" y2="138.29" stroke="#f00" stroke-width="0.55"/>
<line x1="445.71" y1="141.59" x2="448.31" y2="141.59" stroke="#f00" stroke-width="0.55"/>
<circle cx="447.01" cy="139.94" r="1.70" fill="#f00" stroke="#f00" stroke-width="0.6"/>
<line x1="457.95" y1="134.17" x2="457.95" y2="139.12" stroke="#f00" stroke-width="0.55"/>
<line x1="456.65" y1="134.17" x2="459.25" y2="134.17" stroke="#f00" stroke-width="0.55"/>
<line x1="456.65" y1="139.12" x2="459.25" y2="139.12" stroke="#f00" stroke-width="0.55"/>
<circle cx="457.95" cy="136.64" r="1.70" fill="#f00" stroke="#f00" stroke-width="0.6"/>
<line x1="501.70" y1="135.32" x2="501.70" y2="138.62" stroke="#f00" stroke-width="0.55"/>
<line x1="500.40" y1="135.32" x2="503.00" y2="135.32" stroke="#f00" stroke-width="0.55"/>
<line x1="500.40" y1="138.62" x2="503.00" y2="138.62" stroke="#f00" stroke-width="0.55"/>
<circle cx="501.70" cy="136.97" r="1.70" fill="#f00" stroke="#f00" stroke-width="0.6"/>
<line x1="545.46" y1="132.02" x2="545.46" y2="135.32" stroke="#f00" stroke-width="0.55"/>
<line x1="544.16" y1="132.02" x2="546.76" y2="132.02" stroke="#f00" stroke-width="0.55"/>
<line x1="544.16" y1="135.32" x2="546.76" y2="135.32" stroke="#f00" stroke-width="0.55"/>
<circle cx="545.46" cy="133.67" r="1.70" fill="#f00" stroke="#f00" stroke-width="0.6"/>
<line x1="589.21" y1="128.89" x2="589.21" y2="132.19" stroke="#f00" stroke-width="0.55"/>
<line x1="587.91" y1="128.89" x2="590.51" y2="128.89" stroke="#f00" stroke-width="0.55"/>
<line x1="587.91" y1="132.19" x2="590.51" y2="132.19" stroke="#f00" stroke-width="0.55"/>
<circle cx="589.21" cy="130.54" r="1.70" fill="#f00" stroke="#f00" stroke-width="0.6"/>
<line x1="425.14" y1="138.62" x2="425.14" y2="141.92" stroke="#1a1a80" stroke-width="0.55"/>
<line x1="423.84" y1="138.62" x2="426.44" y2="138.62" stroke="#1a1a80" stroke-width="0.55"/>
<line x1="423.84" y1="141.92" x2="426.44" y2="141.92" stroke="#1a1a80" stroke-width="0.55"/>
<polygon points="425.14,138.32 423.18,141.74 427.09,141.74" fill="#1a1a80" stroke="#1a1a80" stroke-width="0.6"/>
<line x1="436.08" y1="135.82" x2="436.08" y2="139.12" stroke="#1a1a80" stroke-width="0.55"/>
<line x1="434.78" y1="135.82" x2="437.38" y2="135.82" stroke="#1a1a80" stroke-width="0.55"/>
<line x1="434.78" y1="139.12" x2="437.38" y2="139.12" stroke="#1a1a80" stroke-width="0.55"/>
<polygon points="436.08,135.51 434.12,138.94 438.03,138.94" fill="#1a1a80" stroke="#1a1a80" stroke-width="0.6"/>
<line x1="447.01" y1="134.17" x2="447.01" y2="137.47" stroke="#1a1a80" stroke-width="0.55"/>
<line x1="445.71" y1="134.17" x2="448.31" y2="134.17" stroke="#1a1a80" stroke-width="0.55"/>
<line x1="445.71" y1="137.47" x2="448.31" y2="137.47" stroke="#1a1a80" stroke-width="0.55"/>
<polygon points="447.01,133.86 445.06,137.29 448.97,137.29" fill="#1a1a80" stroke="#1a1a80" stroke-width="0.6"/>
<line x1="457.95" y1="131.53" x2="457.95" y2="136.48" stroke="#1a1a80" stroke-width="0.55"/>
<line x1="456.65" y1="131.53" x2="459.25" y2="131.53" stroke="#1a1a80" stroke-width="0.55"/>
<line x1="456.65" y1="136.48" x2="459.25" y2="136.48" stroke="#1a1a80" stroke-width="0.55"/>
<polygon points="457.95,132.05 456.00,135.47 459.91,135.47" fill="#1a1a80" stroke="#1a1a80" stroke-width="0.6"/>
<line x1="501.70" y1="129.72" x2="501.70" y2="133.01" stroke="#1a1a80" stroke-width="0.55"/>
<line x1="500.40" y1="129.72" x2="503.00" y2="129.72" stroke="#1a1a80" stroke-width="0.55"/>
<line x1="500.40" y1="133.01" x2="503.00" y2="133.01" stroke="#1a1a80" stroke-width="0.55"/>
<polygon points="501.70,129.41 499.75,132.83 503.66,132.83" fill="#1a1a80" stroke="#1a1a80" stroke-width="0.6"/>
<line x1="545.46" y1="127.57" x2="545.46" y2="130.87" stroke="#1a1a80" stroke-width="0.55"/>
<line x1="544.16" y1="127.57" x2="546.76" y2="127.57" stroke="#1a1a80" stroke-width="0.55"/>
<line x1="544.16" y1="130.87" x2="546.76" y2="130.87" stroke="#1a1a80" stroke-width="0.55"/>
<polygon points="545.46,127.27 543.50,130.69 547.41,130.69" fill="#1a1a80" stroke="#1a1a80" stroke-width="0.6"/>
<line x1="589.21" y1="126.25" x2="589.21" y2="129.55" stroke="#1a1a80" stroke-width="0.55"/>
<line x1="587.91" y1="126.25" x2="590.51" y2="126.25" stroke="#1a1a80" stroke-width="0.55"/>
<line x1="587.91" y1="129.55" x2="590.51" y2="129.55" stroke="#1a1a80" stroke-width="0.55"/>
<polygon points="589.21,125.94 587.25,129.37 591.16,129.37" fill="#1a1a80" stroke="#1a1a80" stroke-width="0.6"/>
<line x1="425.14" y1="133.18" x2="425.14" y2="137.14" stroke="#555" stroke-width="0.55"/>
<line x1="423.84" y1="133.18" x2="426.44" y2="133.18" stroke="#555" stroke-width="0.55"/>
<line x1="423.84" y1="137.14" x2="426.44" y2="137.14" stroke="#555" stroke-width="0.55"/>
<circle cx="425.14" cy="135.16" r="1.70" fill="none" stroke="#555" stroke-width="0.6"/>
<line x1="436.08" y1="132.02" x2="436.08" y2="135.32" stroke="#555" stroke-width="0.55"/>
<line x1="434.78" y1="132.02" x2="437.38" y2="132.02" stroke="#555" stroke-width="0.55"/>
<line x1="434.78" y1="135.32" x2="437.38" y2="135.32" stroke="#555" stroke-width="0.55"/>
<circle cx="436.08" cy="133.67" r="1.70" fill="none" stroke="#555" stroke-width="0.6"/>
<line x1="447.01" y1="127.57" x2="447.01" y2="133.51" stroke="#555" stroke-width="0.55"/>
<line x1="445.71" y1="127.57" x2="448.31" y2="127.57" stroke="#555" stroke-width="0.55"/>
<line x1="445.71" y1="133.51" x2="448.31" y2="133.51" stroke="#555" stroke-width="0.55"/>
<circle cx="447.01" cy="130.54" r="1.70" fill="none" stroke="#555" stroke-width="0.6"/>
<line x1="457.95" y1="121.30" x2="457.95" y2="127.90" stroke="#555" stroke-width="0.55"/>
<line x1="456.65" y1="121.30" x2="459.25" y2="121.30" stroke="#555" stroke-width="0.55"/>
<line x1="456.65" y1="127.90" x2="459.25" y2="127.90" stroke="#555" stroke-width="0.55"/>
<circle cx="457.95" cy="124.60" r="1.70" fill="none" stroke="#555" stroke-width="0.6"/>
<line x1="501.70" y1="118.82" x2="501.70" y2="123.77" stroke="#555" stroke-width="0.55"/>
<line x1="500.40" y1="118.82" x2="503.00" y2="118.82" stroke="#555" stroke-width="0.55"/>
<line x1="500.40" y1="123.77" x2="503.00" y2="123.77" stroke="#555" stroke-width="0.55"/>
<circle cx="501.70" cy="121.30" r="1.70" fill="none" stroke="#555" stroke-width="0.6"/>
<line x1="545.46" y1="115.85" x2="545.46" y2="122.45" stroke="#555" stroke-width="0.55"/>
<line x1="544.16" y1="115.85" x2="546.76" y2="115.85" stroke="#555" stroke-width="0.55"/>
<line x1="544.16" y1="122.45" x2="546.76" y2="122.45" stroke="#555" stroke-width="0.55"/>
<circle cx="545.46" cy="119.15" r="1.70" fill="none" stroke="#555" stroke-width="0.6"/>
<line x1="589.21" y1="110.24" x2="589.21" y2="118.49" stroke="#555" stroke-width="0.55"/>
<line x1="587.91" y1="110.24" x2="590.51" y2="110.24" stroke="#555" stroke-width="0.55"/>
<line x1="587.91" y1="118.49" x2="590.51" y2="118.49" stroke="#555" stroke-width="0.55"/>
<circle cx="589.21" cy="114.37" r="1.70" fill="none" stroke="#555" stroke-width="0.6"/>
<line x1="425.14" y1="124.60" x2="425.14" y2="129.55" stroke="#f22" stroke-width="0.55"/>
<line x1="423.84" y1="124.60" x2="426.44" y2="124.60" stroke="#f22" stroke-width="0.55"/>
<line x1="423.84" y1="129.55" x2="426.44" y2="129.55" stroke="#f22" stroke-width="0.55"/>
<circle cx="425.14" cy="127.07" r="1.70" fill="none" stroke="#f22" stroke-width="0.6"/>
<line x1="436.08" y1="112.06" x2="436.08" y2="121.30" stroke="#f22" stroke-width="0.55"/>
<line x1="434.78" y1="112.06" x2="437.38" y2="112.06" stroke="#f22" stroke-width="0.55"/>
<line x1="434.78" y1="121.30" x2="437.38" y2="121.30" stroke="#f22" stroke-width="0.55"/>
<circle cx="436.08" cy="116.68" r="1.70" fill="none" stroke="#f22" stroke-width="0.6"/>
<line x1="447.01" y1="104.80" x2="447.01" y2="116.35" stroke="#f22" stroke-width="0.55"/>
<line x1="445.71" y1="104.80" x2="448.31" y2="104.80" stroke="#f22" stroke-width="0.55"/>
<line x1="445.71" y1="116.35" x2="448.31" y2="116.35" stroke="#f22" stroke-width="0.55"/>
<circle cx="447.01" cy="110.57" r="1.70" fill="none" stroke="#f22" stroke-width="0.6"/>
<line x1="457.95" y1="100.18" x2="457.95" y2="110.08" stroke="#f22" stroke-width="0.55"/>
<line x1="456.65" y1="100.18" x2="459.25" y2="100.18" stroke="#f22" stroke-width="0.55"/>
<line x1="456.65" y1="110.08" x2="459.25" y2="110.08" stroke="#f22" stroke-width="0.55"/>
<circle cx="457.95" cy="105.13" r="1.70" fill="none" stroke="#f22" stroke-width="0.6"/>
<line x1="501.70" y1="88.79" x2="501.70" y2="98.69" stroke="#f22" stroke-width="0.55"/>
<line x1="500.40" y1="88.79" x2="503.00" y2="88.79" stroke="#f22" stroke-width="0.55"/>
<line x1="500.40" y1="98.69" x2="503.00" y2="98.69" stroke="#f22" stroke-width="0.55"/>
<circle cx="501.70" cy="93.74" r="1.70" fill="none" stroke="#f22" stroke-width="0.6"/>
<line x1="545.46" y1="87.47" x2="545.46" y2="90.11" stroke="#f22" stroke-width="0.55"/>
<line x1="544.16" y1="87.47" x2="546.76" y2="87.47" stroke="#f22" stroke-width="0.55"/>
<line x1="544.16" y1="90.11" x2="546.76" y2="90.11" stroke="#f22" stroke-width="0.55"/>
<circle cx="545.46" cy="88.79" r="1.70" fill="none" stroke="#f22" stroke-width="0.6"/>
<line x1="589.21" y1="68.66" x2="589.21" y2="88.46" stroke="#f22" stroke-width="0.55"/>
<line x1="587.91" y1="68.66" x2="590.51" y2="68.66" stroke="#f22" stroke-width="0.55"/>
<line x1="587.91" y1="88.46" x2="590.51" y2="88.46" stroke="#f22" stroke-width="0.55"/>
<circle cx="589.21" cy="78.56" r="1.70" fill="none" stroke="#f22" stroke-width="0.6"/>
<line x1="425.14" y1="117.50" x2="425.14" y2="122.45" stroke="#3434b0" stroke-width="0.55"/>
<line x1="423.84" y1="117.50" x2="426.44" y2="117.50" stroke="#3434b0" stroke-width="0.55"/>
<line x1="423.84" y1="122.45" x2="426.44" y2="122.45" stroke="#3434b0" stroke-width="0.55"/>
<polygon points="425.14,118.02 423.18,121.45 427.09,121.45" fill="none" stroke="#3434b0" stroke-width="0.6"/>
<line x1="436.08" y1="96.55" x2="436.08" y2="101.50" stroke="#3434b0" stroke-width="0.55"/>
<line x1="434.78" y1="96.55" x2="437.38" y2="96.55" stroke="#3434b0" stroke-width="0.55"/>
<line x1="434.78" y1="101.50" x2="437.38" y2="101.50" stroke="#3434b0" stroke-width="0.55"/>
<polygon points="436.08,97.07 434.12,100.49 438.03,100.49" fill="none" stroke="#3434b0" stroke-width="0.6"/>
<line x1="447.01" y1="85.16" x2="447.01" y2="91.77" stroke="#3434b0" stroke-width="0.55"/>
<line x1="445.71" y1="85.16" x2="448.31" y2="85.16" stroke="#3434b0" stroke-width="0.55"/>
<line x1="445.71" y1="91.77" x2="448.31" y2="91.77" stroke="#3434b0" stroke-width="0.55"/>
<polygon points="447.01,86.51 445.06,89.93 448.97,89.93" fill="none" stroke="#3434b0" stroke-width="0.6"/>
<line x1="457.95" y1="76.25" x2="457.95" y2="82.86" stroke="#3434b0" stroke-width="0.55"/>
<line x1="456.65" y1="76.25" x2="459.25" y2="76.25" stroke="#3434b0" stroke-width="0.55"/>
<line x1="456.65" y1="82.86" x2="459.25" y2="82.86" stroke="#3434b0" stroke-width="0.55"/>
<polygon points="457.95,77.60 456.00,81.02 459.91,81.02" fill="none" stroke="#3434b0" stroke-width="0.6"/>
<line x1="501.70" y1="66.52" x2="501.70" y2="69.82" stroke="#3434b0" stroke-width="0.55"/>
<line x1="500.40" y1="66.52" x2="503.00" y2="66.52" stroke="#3434b0" stroke-width="0.55"/>
<line x1="500.40" y1="69.82" x2="503.00" y2="69.82" stroke="#3434b0" stroke-width="0.55"/>
<polygon points="501.70,66.21 499.75,69.64 503.66,69.64" fill="none" stroke="#3434b0" stroke-width="0.6"/>
<line x1="545.46" y1="56.95" x2="545.46" y2="65.20" stroke="#3434b0" stroke-width="0.55"/>
<line x1="544.16" y1="56.95" x2="546.76" y2="56.95" stroke="#3434b0" stroke-width="0.55"/>
<line x1="544.16" y1="65.20" x2="546.76" y2="65.20" stroke="#3434b0" stroke-width="0.55"/>
<polygon points="545.46,59.12 543.50,62.54 547.41,62.54" fill="none" stroke="#3434b0" stroke-width="0.6"/>
<line x1="589.21" y1="46.22" x2="589.21" y2="51.17" stroke="#3434b0" stroke-width="0.55"/>
<line x1="587.91" y1="46.22" x2="590.51" y2="46.22" stroke="#3434b0" stroke-width="0.55"/>
<line x1="587.91" y1="51.17" x2="590.51" y2="51.17" stroke="#3434b0" stroke-width="0.55"/>
<polygon points="589.21,46.74 587.25,50.17 591.16,50.17" fill="none" stroke="#3434b0" stroke-width="0.6"/>
<rect x="414.2" y="16.1" width="182.3" height="148.1" fill="none" stroke="#444" stroke-width="0.8"/>
<line x1="420.2" y1="23.2" x2="434.5" y2="23.2" stroke="#222" stroke-width="0.8"/>
<circle cx="427.40" cy="23.20" r="1.60" fill="#222" stroke="#222" stroke-width="0.6"/>
<text x="437.20" y="25.70" font-size="6.9" font-weight="bold" fill="#1a1a1a" text-anchor="start" stroke="#1a1a1a" stroke-width="0.18" textLength="47" lengthAdjust="spacingAndGlyphs" font-family='"Liberation Sans", Arial, sans-serif' >DOX/P (pH 7.4)</text>
<line x1="420.2" y1="32.2" x2="434.5" y2="32.2" stroke="#f00" stroke-width="0.8"/>
<circle cx="427.40" cy="32.20" r="1.60" fill="#f00" stroke="#f00" stroke-width="0.6"/>
<text x="437.20" y="34.70" font-size="6.9" font-weight="bold" fill="#1a1a1a" text-anchor="start" stroke="#1a1a1a" stroke-width="0.18" textLength="47" lengthAdjust="spacingAndGlyphs" font-family='"Liberation Sans", Arial, sans-serif' >DOX/P (pH 6.5)</text>
<line x1="420.2" y1="41.2" x2="434.5" y2="41.2" stroke="#3a3ac0" stroke-width="0.8"/>
<polygon points="427.40,39.36 425.56,42.58 429.24,42.58" fill="#1a1a80" stroke="#1a1a80" stroke-width="0.6"/>
<text x="437.20" y="43.70" font-size="6.9" font-weight="bold" fill="#1a1a1a" text-anchor="start" stroke="#1a1a1a" stroke-width="0.18" textLength="47" lengthAdjust="spacingAndGlyphs" font-family='"Liberation Sans", Arial, sans-serif' >DOX/P (pH 5.0)</text>
<line x1="487.8" y1="23.2" x2="502.1" y2="23.2" stroke="#555" stroke-width="0.8"/>
<circle cx="495.00" cy="23.20" r="1.60" fill="none" stroke="#555" stroke-width="0.6"/>
<text x="504.00" y="25.70" font-size="6.9" font-weight="bold" fill="#1a1a1a" text-anchor="start" stroke="#1a1a1a" stroke-width="0.18" textLength="54" lengthAdjust="spacingAndGlyphs" font-family='"Liberation Sans", Arial, sans-serif' >DOX/P-D (pH 7.4)</text>
<line x1="487.8" y1="32.2" x2="502.1" y2="32.2" stroke="#f22" stroke-width="0.8"/>
<circle cx="495.00" cy="32.20" r="1.60" fill="none" stroke="#f22" stroke-width="0.6"/>
<text x="504.00" y="34.70" font-size="6.9" font-weight="bold" fill="#1a1a1a" text-anchor="start" stroke="#1a1a1a" stroke-width="0.18" textLength="54" lengthAdjust="spacingAndGlyphs" font-family='"Liberation Sans", Arial, sans-serif' >DOX/P-D (pH 6.5)</text>
<line x1="487.8" y1="41.2" x2="502.1" y2="41.2" stroke="#3434b0" stroke-width="0.8"/>
<polygon points="495.00,39.36 493.16,42.58 496.84,42.58" fill="none" stroke="#3434b0" stroke-width="0.6"/>
<text x="504.00" y="43.70" font-size="6.9" font-weight="bold" fill="#1a1a1a" text-anchor="start" stroke="#1a1a1a" stroke-width="0.18" textLength="54" lengthAdjust="spacingAndGlyphs" font-family='"Liberation Sans", Arial, sans-serif' >DOX/P-D (pH 5.0)</text>
<text x="382.00" y="244.80" font-size="21.5" font-weight="normal" fill="#111" text-anchor="start" stroke="#111" stroke-width="0.15" font-family='"Liberation Serif", "Times New Roman", serif' >d</text>
<line x1="421.7" y1="346.10" x2="423.3" y2="346.10" stroke="#333" stroke-width="0.6"/>
<line x1="420.7" y1="335.44" x2="423.3" y2="335.44" stroke="#333" stroke-width="0.6"/>
<text x="419.70" y="337.64" font-size="6.1" font-weight="bold" fill="#1a1a1a" text-anchor="end" stroke="#1a1a1a" stroke-width="0.18" font-family='"Liberation Sans", Arial, sans-serif' >2</text>
<line x1="421.7" y1="324.78" x2="423.3" y2="324.78" stroke="#333" stroke-width="0.6"/>
<line x1="420.7" y1="314.12" x2="423.3" y2="314.12" stroke="#333" stroke-width="0.6"/>
<text x="419.70" y="316.32" font-size="6.1" font-weight="bold" fill="#1a1a1a" text-anchor="end" stroke="#1a1a1a" stroke-width="0.18" font-family='"Liberation Sans", Arial, sans-serif' >4</text>
<line x1="421.7" y1="303.46" x2="423.3" y2="303.46" stroke="#333" stroke-width="0.6"/>
<line x1="420.7" y1="292.80" x2="423.3" y2="292.80" stroke="#333" stroke-width="0.6"/>
<text x="419.70" y="295.00" font-size="6.1" font-weight="bold" fill="#1a1a1a" text-anchor="end" stroke="#1a1a1a" stroke-width="0.18" font-family='"Liberation Sans", Arial, sans-serif' >6</text>
<line x1="421.7" y1="282.14" x2="423.3" y2="282.14" stroke="#333" stroke-width="0.6"/>
<line x1="420.7" y1="271.48" x2="423.3" y2="271.48" stroke="#333" stroke-width="0.6"/>
<text x="419.70" y="273.68" font-size="6.1" font-weight="bold" fill="#1a1a1a" text-anchor="end" stroke="#1a1a1a" stroke-width="0.18" font-family='"Liberation Sans", Arial, sans-serif' >8</text>
<line x1="421.7" y1="260.82" x2="423.3" y2="260.82" stroke="#333" stroke-width="0.6"/>
<line x1="420.7" y1="250.16" x2="423.3" y2="250.16" stroke="#333" stroke-width="0.6"/>
<text x="419.70" y="252.36" font-size="6.1" font-weight="bold" fill="#1a1a1a" text-anchor="end" stroke="#1a1a1a" stroke-width="0.18" font-family='"Liberation Sans", Arial, sans-serif' >10</text>
<line x1="421.7" y1="239.50" x2="423.3" y2="239.50" stroke="#333" stroke-width="0.6"/>
<line x1="420.7" y1="228.84" x2="423.3" y2="228.84" stroke="#333" stroke-width="0.6"/>
<text x="419.70" y="231.04" font-size="6.1" font-weight="bold" fill="#1a1a1a" text-anchor="end" stroke="#1a1a1a" stroke-width="0.18" font-family='"Liberation Sans", Arial, sans-serif' >12</text>
<line x1="421.7" y1="218.18" x2="423.3" y2="218.18" stroke="#333" stroke-width="0.6"/>
<line x1="420.7" y1="207.52" x2="423.3" y2="207.52" stroke="#333" stroke-width="0.6"/>
<text x="419.70" y="209.72" font-size="6.1" font-weight="bold" fill="#1a1a1a" text-anchor="end" stroke="#1a1a1a" stroke-width="0.18" font-family='"Liberation Sans", Arial, sans-serif' >14</text>
<line x1="424.00" y1="346.1" x2="424.00" y2="348.70000000000005" stroke="#333" stroke-width="0.6"/>
<text x="424.00" y="356.30" font-size="6.1" font-weight="bold" fill="#1a1a1a" text-anchor="middle" stroke="#1a1a1a" stroke-width="0.18" font-family='"Liberation Sans", Arial, sans-serif' >0</text>
<line x1="444.94" y1="346.1" x2="444.94" y2="348.70000000000005" stroke="#333" stroke-width="0.6"/>
<text x="444.94" y="356.30" font-size="6.1" font-weight="bold" fill="#1a1a1a" text-anchor="middle" stroke="#1a1a1a" stroke-width="0.18" font-family='"Liberation Sans", Arial, sans-serif' >3</text>
<line x1="465.88" y1="346.1" x2="465.88" y2="348.70000000000005" stroke="#333" stroke-width="0.6"/>
<text x="465.88" y="356.30" font-size="6.1" font-weight="bold" fill="#1a1a1a" text-anchor="middle" stroke="#1a1a1a" stroke-width="0.18" font-family='"Liberation Sans", Arial, sans-serif' >6</text>
<line x1="486.82" y1="346.1" x2="486.82" y2="348.70000000000005" stroke="#333" stroke-width="0.6"/>
<text x="486.82" y="356.30" font-size="6.1" font-weight="bold" fill="#1a1a1a" text-anchor="middle" stroke="#1a1a1a" stroke-width="0.18" font-family='"Liberation Sans", Arial, sans-serif' >9</text>
<line x1="507.76" y1="346.1" x2="507.76" y2="348.70000000000005" stroke="#333" stroke-width="0.6"/>
<text x="507.76" y="356.30" font-size="6.1" font-weight="bold" fill="#1a1a1a" text-anchor="middle" stroke="#1a1a1a" stroke-width="0.18" font-family='"Liberation Sans", Arial, sans-serif' >12</text>
<line x1="528.70" y1="346.1" x2="528.70" y2="348.70000000000005" stroke="#333" stroke-width="0.6"/>
<text x="528.70" y="356.30" font-size="6.1" font-weight="bold" fill="#1a1a1a" text-anchor="middle" stroke="#1a1a1a" stroke-width="0.18" font-family='"Liberation Sans", Arial, sans-serif' >15</text>
<line x1="549.64" y1="346.1" x2="549.64" y2="348.70000000000005" stroke="#333" stroke-width="0.6"/>
<text x="549.64" y="356.30" font-size="6.1" font-weight="bold" fill="#1a1a1a" text-anchor="middle" stroke="#1a1a1a" stroke-width="0.18" font-family='"Liberation Sans", Arial, sans-serif' >18</text>
<line x1="570.58" y1="346.1" x2="570.58" y2="348.70000000000005" stroke="#333" stroke-width="0.6"/>
<text x="570.58" y="356.30" font-size="6.1" font-weight="bold" fill="#1a1a1a" text-anchor="middle" stroke="#1a1a1a" stroke-width="0.18" font-family='"Liberation Sans", Arial, sans-serif' >21</text>
<line x1="591.52" y1="346.1" x2="591.52" y2="348.70000000000005" stroke="#333" stroke-width="0.6"/>
<text x="591.52" y="356.30" font-size="6.1" font-weight="bold" fill="#1a1a1a" text-anchor="middle" stroke="#1a1a1a" stroke-width="0.18" font-family='"Liberation Sans", Arial, sans-serif' >24</text>
<path d="M424.00,358.8 L425.80,361 L424.95,361 L424.95,365 L423.05,365 L423.05,361 L422.20,361 Z" fill="#111"/>
<path d="M444.94,358.8 L446.74,361 L445.89,361 L445.89,365 L443.99,365 L443.99,361 L443.14,361 Z" fill="#111"/>
<path d="M465.88,358.8 L467.68,361 L466.83,361 L466.83,365 L464.93,365 L464.93,361 L464.08,361 Z" fill="#111"/>
<path d="M486.82,358.8 L488.62,361 L487.77,361 L487.77,365 L485.87,365 L485.87,361 L485.02,361 Z" fill="#111"/>
<text x="497.80" y="368.20" font-size="7.0" font-weight="bold" fill="#1a1a1a" text-anchor="start" stroke="#1a1a1a" stroke-width="0.18" textLength="27" lengthAdjust="spacingAndGlyphs" font-family='"Liberation Sans", Arial, sans-serif' >Time (d)</text>
<text transform="translate(407.0,332.2) rotate(-90)" font-size="6.6" font-weight="bold" fill="#1a1a1a" textLength="100" lengthAdjust="spacingAndGlyphs" font-family='"Liberation Sans", Arial, sans-serif'><tspan>Relative tumor volume (V/V</tspan><tspan font-size="4.2" dy="1.4">0</tspan><tspan dy="-1.4">)</tspan></text>
<polyline points="424.00,346.10 444.94,338.85 465.88,329.58 486.82,326.91 507.76,314.12 528.70,299.41 549.64,288.54 570.58,243.98" fill="none" stroke="#333" stroke-width="0.75"/>
<polyline points="424.00,346.10 444.94,339.70 465.88,330.64 486.82,324.78 507.76,318.17 528.70,305.27 549.64,301.97 570.58,293.23" fill="none" stroke="#4040c0" stroke-width="0.75"/>
<polyline points="424.00,346.10 444.94,343.12 465.88,337.04 486.82,335.44 507.76,332.78 528.70,329.47 549.64,324.78 570.58,319.98" fill="none" stroke="#2a90d8" stroke-width="0.75"/>
<polyline points="424.00,346.10 444.94,342.90 465.88,342.05 486.82,340.24 507.76,339.17 528.70,338.42 549.64,338.42 570.58,335.44" fill="none" stroke="#f22" stroke-width="0.75"/>
<circle cx="424.00" cy="346.10" r="1.35" fill="#f00" stroke="#f00" stroke-width="0.4"/>
<line x1="444.94" y1="341.84" x2="444.94" y2="343.97" stroke="#f00" stroke-width="0.55"/>
<line x1="443.64" y1="341.84" x2="446.24" y2="341.84" stroke="#f00" stroke-width="0.55"/>
<line x1="443.64" y1="343.97" x2="446.24" y2="343.97" stroke="#f00" stroke-width="0.55"/>
<circle cx="444.94" cy="342.90" r="1.35" fill="#f00" stroke="#f00" stroke-width="0.4"/>
<line x1="465.88" y1="339.92" x2="465.88" y2="344.18" stroke="#f00" stroke-width="0.55"/>
<line x1="464.58" y1="339.92" x2="467.18" y2="339.92" stroke="#f00" stroke-width="0.55"/>
<line x1="464.58" y1="344.18" x2="467.18" y2="344.18" stroke="#f00" stroke-width="0.55"/>
<circle cx="465.88" cy="342.05" r="1.35" fill="#f00" stroke="#f00" stroke-width="0.4"/>
<line x1="486.82" y1="338.11" x2="486.82" y2="342.37" stroke="#f00" stroke-width="0.55"/>
<line x1="485.52" y1="338.11" x2="488.12" y2="338.11" stroke="#f00" stroke-width="0.55"/>
<line x1="485.52" y1="342.37" x2="488.12" y2="342.37" stroke="#f00" stroke-width="0.55"/>
<circle cx="486.82" cy="340.24" r="1.35" fill="#f00" stroke="#f00" stroke-width="0.4"/>
<line x1="507.76" y1="336.51" x2="507.76" y2="341.84" stroke="#f00" stroke-width="0.55"/>
<line x1="506.46" y1="336.51" x2="509.06" y2="336.51" stroke="#f00" stroke-width="0.55"/>
<line x1="506.46" y1="341.84" x2="509.06" y2="341.84" stroke="#f00" stroke-width="0.55"/>
<circle cx="507.76" cy="339.17" r="1.35" fill="#f00" stroke="#f00" stroke-width="0.4"/>
<line x1="528.70" y1="335.23" x2="528.70" y2="341.62" stroke="#f00" stroke-width="0.55"/>
<line x1="527.40" y1="335.23" x2="530.00" y2="335.23" stroke="#f00" stroke-width="0.55"/>
<line x1="527.40" y1="341.62" x2="530.00" y2="341.62" stroke="#f00" stroke-width="0.55"/>
<circle cx="528.70" cy="338.42" r="1.35" fill="#f00" stroke="#f00" stroke-width="0.4"/>
<line x1="549.64" y1="335.23" x2="549.64" y2="341.62" stroke="#f00" stroke-width="0.55"/>
<line x1="548.34" y1="335.23" x2="550.94" y2="335.23" stroke="#f00" stroke-width="0.55"/>
<line x1="548.34" y1="341.62" x2="550.94" y2="341.62" stroke="#f00" stroke-width="0.55"/>
<circle cx="549.64" cy="338.42" r="1.35" fill="#f00" stroke="#f00" stroke-width="0.4"/>
<line x1="570.58" y1="332.24" x2="570.58" y2="338.64" stroke="#f00" stroke-width="0.55"/>
<line x1="569.28" y1="332.24" x2="571.88" y2="332.24" stroke="#f00" stroke-width="0.55"/>
<line x1="569.28" y1="338.64" x2="571.88" y2="338.64" stroke="#f00" stroke-width="0.55"/>
<circle cx="570.58" cy="335.44" r="1.35" fill="#f00" stroke="#f00" stroke-width="0.4"/>
<polygon points="424.00,347.65 422.45,344.94 425.55,344.94" fill="#1f80c8" stroke="#1f80c8" stroke-width="0.4"/>
<line x1="444.94" y1="342.05" x2="444.94" y2="344.18" stroke="#1f80c8" stroke-width="0.55"/>
<line x1="443.64" y1="342.05" x2="446.24" y2="342.05" stroke="#1f80c8" stroke-width="0.55"/>
<line x1="443.64" y1="344.18" x2="446.24" y2="344.18" stroke="#1f80c8" stroke-width="0.55"/>
<polygon points="444.94,344.67 443.39,341.95 446.49,341.95" fill="#1f80c8" stroke="#1f80c8" stroke-width="0.4"/>
<line x1="465.88" y1="334.91" x2="465.88" y2="339.17" stroke="#1f80c8" stroke-width="0.55"/>
<line x1="464.58" y1="334.91" x2="467.18" y2="334.91" stroke="#1f80c8" stroke-width="0.55"/>
<line x1="464.58" y1="339.17" x2="467.18" y2="339.17" stroke="#1f80c8" stroke-width="0.55"/>
<polygon points="465.88,338.59 464.33,335.87 467.43,335.87" fill="#1f80c8" stroke="#1f80c8" stroke-width="0.4"/>
<line x1="486.82" y1="333.31" x2="486.82" y2="337.57" stroke="#1f80c8" stroke-width="0.55"/>
<line x1="485.52" y1="333.31" x2="488.12" y2="333.31" stroke="#1f80c8" stroke-width="0.55"/>
<line x1="485.52" y1="337.57" x2="488.12" y2="337.57" stroke="#1f80c8" stroke-width="0.55"/>
<polygon points="486.82,336.99 485.27,334.28 488.37,334.28" fill="#1f80c8" stroke="#1f80c8" stroke-width="0.4"/>
<line x1="507.76" y1="330.11" x2="507.76" y2="335.44" stroke="#1f80c8" stroke-width="0.55"/>
<line x1="506.46" y1="330.11" x2="509.06" y2="330.11" stroke="#1f80c8" stroke-width="0.55"/>
<line x1="506.46" y1="335.44" x2="509.06" y2="335.44" stroke="#1f80c8" stroke-width="0.55"/>
<polygon points="507.76,334.33 506.21,331.61 509.31,331.61" fill="#1f80c8" stroke="#1f80c8" stroke-width="0.4"/>
<line x1="528.70" y1="326.81" x2="528.70" y2="332.14" stroke="#1f80c8" stroke-width="0.55"/>
<line x1="527.40" y1="326.81" x2="530.00" y2="326.81" stroke="#1f80c8" stroke-width="0.55"/>
<line x1="527.40" y1="332.14" x2="530.00" y2="332.14" stroke="#1f80c8" stroke-width="0.55"/>
<polygon points="528.70,331.02 527.15,328.31 530.25,328.31" fill="#1f80c8" stroke="#1f80c8" stroke-width="0.4"/>
<line x1="549.64" y1="322.65" x2="549.64" y2="326.91" stroke="#1f80c8" stroke-width="0.55"/>
<line x1="548.34" y1="322.65" x2="550.94" y2="322.65" stroke="#1f80c8" stroke-width="0.55"/>
<line x1="548.34" y1="326.91" x2="550.94" y2="326.91" stroke="#1f80c8" stroke-width="0.55"/>
<polygon points="549.64,326.33 548.09,323.62 551.19,323.62" fill="#1f80c8" stroke="#1f80c8" stroke-width="0.4"/>
<line x1="570.58" y1="317.85" x2="570.58" y2="322.12" stroke="#1f80c8" stroke-width="0.55"/>
<line x1="569.28" y1="317.85" x2="571.88" y2="317.85" stroke="#1f80c8" stroke-width="0.55"/>
<line x1="569.28" y1="322.12" x2="571.88" y2="322.12" stroke="#1f80c8" stroke-width="0.55"/>
<polygon points="570.58,321.54 569.03,318.82 572.13,318.82" fill="#1f80c8" stroke="#1f80c8" stroke-width="0.4"/>
<polygon points="424.00,344.55 422.45,347.26 425.55,347.26" fill="#1a1a80" stroke="#1a1a80" stroke-width="0.4"/>
<line x1="444.94" y1="338.64" x2="444.94" y2="340.77" stroke="#3a3ad0" stroke-width="0.55"/>
<line x1="443.64" y1="338.64" x2="446.24" y2="338.64" stroke="#3a3ad0" stroke-width="0.55"/>
<line x1="443.64" y1="340.77" x2="446.24" y2="340.77" stroke="#3a3ad0" stroke-width="0.55"/>
<polygon points="444.94,338.15 443.39,340.87 446.49,340.87" fill="#1a1a80" stroke="#1a1a80" stroke-width="0.4"/>
<line x1="465.88" y1="325.31" x2="465.88" y2="335.97" stroke="#3a3ad0" stroke-width="0.55"/>
<line x1="464.58" y1="325.31" x2="467.18" y2="325.31" stroke="#3a3ad0" stroke-width="0.55"/>
<line x1="464.58" y1="335.97" x2="467.18" y2="335.97" stroke="#3a3ad0" stroke-width="0.55"/>
<polygon points="465.88,329.09 464.33,331.81 467.43,331.81" fill="#1a1a80" stroke="#1a1a80" stroke-width="0.4"/>
<line x1="486.82" y1="318.38" x2="486.82" y2="331.18" stroke="#3a3ad0" stroke-width="0.55"/>
<line x1="485.52" y1="318.38" x2="488.12" y2="318.38" stroke="#3a3ad0" stroke-width="0.55"/>
<line x1="485.52" y1="331.18" x2="488.12" y2="331.18" stroke="#3a3ad0" stroke-width="0.55"/>
<polygon points="486.82,323.23 485.27,325.94 488.37,325.94" fill="#1a1a80" stroke="#1a1a80" stroke-width="0.4"/>
<line x1="507.76" y1="307.51" x2="507.76" y2="328.83" stroke="#3a3ad0" stroke-width="0.55"/>
<line x1="506.46" y1="307.51" x2="509.06" y2="307.51" stroke="#3a3ad0" stroke-width="0.55"/>
<line x1="506.46" y1="328.83" x2="509.06" y2="328.83" stroke="#3a3ad0" stroke-width="0.55"/>
<polygon points="507.76,316.62 506.21,319.34 509.31,319.34" fill="#1a1a80" stroke="#1a1a80" stroke-width="0.4"/>
<line x1="528.70" y1="293.55" x2="528.70" y2="317.00" stroke="#3a3ad0" stroke-width="0.55"/>
<line x1="527.40" y1="293.55" x2="530.00" y2="293.55" stroke="#3a3ad0" stroke-width="0.55"/>
<line x1="527.40" y1="317.00" x2="530.00" y2="317.00" stroke="#3a3ad0" stroke-width="0.55"/>
<polygon points="528.70,303.72 527.15,306.44 530.25,306.44" fill="#1a1a80" stroke="#1a1a80" stroke-width="0.4"/>
<line x1="549.64" y1="290.24" x2="549.64" y2="313.69" stroke="#3a3ad0" stroke-width="0.55"/>
<line x1="548.34" y1="290.24" x2="550.94" y2="290.24" stroke="#3a3ad0" stroke-width="0.55"/>
<line x1="548.34" y1="313.69" x2="550.94" y2="313.69" stroke="#3a3ad0" stroke-width="0.55"/>
<polygon points="549.64,300.42 548.09,303.13 551.19,303.13" fill="#1a1a80" stroke="#1a1a80" stroke-width="0.4"/>
<line x1="570.58" y1="279.90" x2="570.58" y2="306.55" stroke="#3a3ad0" stroke-width="0.55"/>
<line x1="569.28" y1="279.90" x2="571.88" y2="279.90" stroke="#3a3ad0" stroke-width="0.55"/>
<line x1="569.28" y1="306.55" x2="571.88" y2="306.55" stroke="#3a3ad0" stroke-width="0.55"/>
<polygon points="570.58,291.67 569.03,294.39 572.13,294.39" fill="#1a1a80" stroke="#1a1a80" stroke-width="0.4"/>
<rect x="422.65" y="344.75" width="2.70" height="2.70" fill="#111" stroke="#111" stroke-width="0.4"/>
<line x1="444.94" y1="337.79" x2="444.94" y2="339.92" stroke="#555" stroke-width="0.55"/>
<line x1="443.64" y1="337.79" x2="446.24" y2="337.79" stroke="#555" stroke-width="0.55"/>
<line x1="443.64" y1="339.92" x2="446.24" y2="339.92" stroke="#555" stroke-width="0.55"/>
<rect x="443.59" y="337.50" width="2.70" height="2.70" fill="#111" stroke="#111" stroke-width="0.4"/>
<line x1="465.88" y1="324.25" x2="465.88" y2="334.91" stroke="#555" stroke-width="0.55"/>
<line x1="464.58" y1="324.25" x2="467.18" y2="324.25" stroke="#555" stroke-width="0.55"/>
<line x1="464.58" y1="334.91" x2="467.18" y2="334.91" stroke="#555" stroke-width="0.55"/>
<rect x="464.53" y="328.23" width="2.70" height="2.70" fill="#111" stroke="#111" stroke-width="0.4"/>
<line x1="486.82" y1="321.58" x2="486.82" y2="332.24" stroke="#555" stroke-width="0.55"/>
<line x1="485.52" y1="321.58" x2="488.12" y2="321.58" stroke="#555" stroke-width="0.55"/>
<line x1="485.52" y1="332.24" x2="488.12" y2="332.24" stroke="#555" stroke-width="0.55"/>
<rect x="485.47" y="325.56" width="2.70" height="2.70" fill="#111" stroke="#111" stroke-width="0.4"/>
<line x1="507.76" y1="307.72" x2="507.76" y2="320.52" stroke="#555" stroke-width="0.55"/>
<line x1="506.46" y1="307.72" x2="509.06" y2="307.72" stroke="#555" stroke-width="0.55"/>
<line x1="506.46" y1="320.52" x2="509.06" y2="320.52" stroke="#555" stroke-width="0.55"/>
<rect x="506.41" y="312.77" width="2.70" height="2.70" fill="#111" stroke="#111" stroke-width="0.4"/>
<line x1="528.70" y1="283.95" x2="528.70" y2="314.87" stroke="#555" stroke-width="0.55"/>
<line x1="527.40" y1="283.95" x2="530.00" y2="283.95" stroke="#555" stroke-width="0.55"/>
<line x1="527.40" y1="314.87" x2="530.00" y2="314.87" stroke="#555" stroke-width="0.55"/>
<rect x="527.35" y="298.06" width="2.70" height="2.70" fill="#111" stroke="#111" stroke-width="0.4"/>
<line x1="549.64" y1="269.35" x2="549.64" y2="307.72" stroke="#555" stroke-width="0.55"/>
<line x1="548.34" y1="269.35" x2="550.94" y2="269.35" stroke="#555" stroke-width="0.55"/>
<line x1="548.34" y1="307.72" x2="550.94" y2="307.72" stroke="#555" stroke-width="0.55"/>
<rect x="548.29" y="287.19" width="2.70" height="2.70" fill="#111" stroke="#111" stroke-width="0.4"/>
<line x1="570.58" y1="217.33" x2="570.58" y2="270.63" stroke="#555" stroke-width="0.55"/>
<line x1="569.28" y1="217.33" x2="571.88" y2="217.33" stroke="#555" stroke-width="0.55"/>
<line x1="569.28" y1="270.63" x2="571.88" y2="270.63" stroke="#555" stroke-width="0.55"/>
<rect x="569.23" y="242.63" width="2.70" height="2.70" fill="#111" stroke="#111" stroke-width="0.4"/>
<rect x="423.3" y="207.3" width="175.0" height="138.8" fill="none" stroke="#555" stroke-width="0.8"/>
<line x1="440.4" y1="224.7" x2="456" y2="224.7" stroke="#888" stroke-width="0.8"/>
<rect x="447.10" y="223.40" width="2.60" height="2.60" fill="#111" stroke="#111" stroke-width="0.4"/>
<text x="458.10" y="226.90" font-size="6.3" font-weight="bold" fill="#1a1a1a" text-anchor="start" stroke="#1a1a1a" stroke-width="0.18" textLength="18.6" lengthAdjust="spacingAndGlyphs" font-family='"Liberation Sans", Arial, sans-serif' >Saline</text>
<line x1="440.4" y1="232.7" x2="456" y2="232.7" stroke="#f00" stroke-width="0.8"/>
<circle cx="448.40" cy="232.70" r="1.30" fill="#f00" stroke="#f00" stroke-width="0.4"/>
<text x="458.10" y="234.90" font-size="6.3" font-weight="bold" fill="#1a1a1a" text-anchor="start" stroke="#1a1a1a" stroke-width="0.18" textLength="26.6" lengthAdjust="spacingAndGlyphs" font-family='"Liberation Sans", Arial, sans-serif' >DOX·HCl</text>
<line x1="440.4" y1="240.8" x2="456" y2="240.8" stroke="#9090e0" stroke-width="0.8"/>
<polygon points="448.40,239.31 446.90,241.92 449.89,241.92" fill="#1a1a80" stroke="#1a1a80" stroke-width="0.4"/>
<text x="458.10" y="243.00" font-size="6.3" font-weight="bold" fill="#1a1a1a" text-anchor="start" stroke="#1a1a1a" stroke-width="0.18" textLength="20" lengthAdjust="spacingAndGlyphs" font-family='"Liberation Sans", Arial, sans-serif' >DOX/P</text>
<line x1="440.4" y1="249.2" x2="456" y2="249.2" stroke="#80b8e0" stroke-width="0.8"/>
<polygon points="448.40,250.69 446.90,248.08 449.89,248.08" fill="#1f80c8" stroke="#1f80c8" stroke-width="0.4"/>
<text x="458.10" y="251.40" font-size="6.3" font-weight="bold" fill="#1a1a1a" text-anchor="start" stroke="#1a1a1a" stroke-width="0.18" textLength="27.4" lengthAdjust="spacingAndGlyphs" font-family='"Liberation Sans", Arial, sans-serif' >DOX/P-D</text>
<path d="M574.3,319 L577.7,319 L577.7,337.5 L574.3,337.5" fill="none" stroke="#333" stroke-width="0.6"/>
<path d="M579,288 L582,288 L582,314.9 L579,314.9" fill="none" stroke="#333" stroke-width="0.6"/>
<path d="M587.6,244.2 L590.4,244.2 L590.4,317.7 L587.6,317.7" fill="none" stroke="#333" stroke-width="0.6"/>
<text transform="translate(576.7,327.6) rotate(90)" font-size="10" font-weight="bold" fill="#111" stroke="#111" stroke-width="0.35" text-anchor="middle" font-family='"Liberation Sans", Arial, sans-serif'>**</text>
<text transform="translate(578.9,300.8) rotate(90)" font-size="10" font-weight="bold" fill="#111" stroke="#111" stroke-width="0.35" text-anchor="middle" font-family='"Liberation Sans", Arial, sans-serif'>**</text>
<text transform="translate(588.8,273.2) rotate(90)" font-size="10" font-weight="bold" fill="#111" stroke="#111" stroke-width="0.35" text-anchor="middle" font-family='"Liberation Sans", Arial, sans-serif'>***</text>
</svg></body></html>
